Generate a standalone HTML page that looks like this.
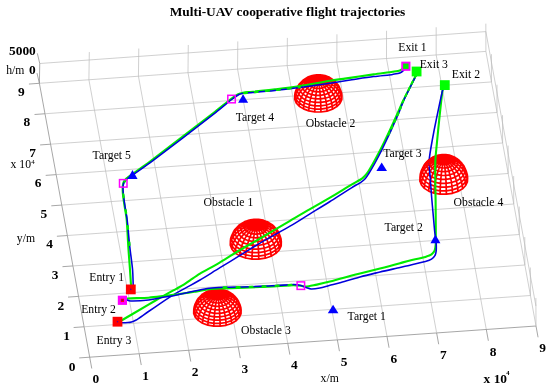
<!DOCTYPE html>
<html><head><meta charset="utf-8"><title>Multi-UAV cooperative flight trajectories</title>
<style>
html,body{margin:0;padding:0;background:#fff;}
svg{display:block}
text{font-family:"Liberation Serif","Times New Roman",serif;fill:#000}
.r{font-size:11.7px}
.b{font-size:13.4px;font-weight:bold}
.sup{font-size:7px}
.bsup{font-size:6.5px;font-weight:bold}
.g{stroke:#bcbcbc;stroke-width:0.7;fill:none}
.ax{stroke:#8a8a8a;stroke-width:0.75;fill:none}
.ob{stroke:#ff0000;stroke-width:1.7;fill:#fff;stroke-linejoin:round}
.tg{stroke:#00ec00;stroke-width:2.1;fill:none;stroke-linejoin:round;stroke-linecap:round}
.tb{stroke:#0000dc;stroke-width:1.55;fill:none;stroke-linejoin:round;stroke-linecap:round}
</style></head><body>
<svg width="550" height="390" viewBox="0 0 550 390">
<rect width="550" height="390" fill="#fff"/>
<g><line class="ax" x1="89.70" y1="357.20" x2="39.40" y2="83.30"/><line class="ax" x1="91.78" y1="368.51" x2="89.70" y2="357.20"/><line class="ax" x1="89.70" y1="357.20" x2="536.00" y2="326.00"/><line class="ax" x1="79.23" y1="357.93" x2="89.70" y2="357.20"/><line class="g" x1="139.18" y1="353.74" x2="88.90" y2="79.76"/><line class="ax" x1="141.26" y1="365.05" x2="139.18" y2="353.74"/><line class="g" x1="84.11" y1="326.79" x2="530.44" y2="295.51"/><line class="ax" x1="73.64" y1="327.52" x2="84.11" y2="326.79"/><line class="g" x1="188.69" y1="350.28" x2="138.43" y2="76.22"/><line class="ax" x1="190.76" y1="361.59" x2="188.69" y2="350.28"/><line class="g" x1="78.53" y1="296.37" x2="524.87" y2="265.01"/><line class="ax" x1="68.05" y1="297.10" x2="78.53" y2="296.37"/><line class="g" x1="238.22" y1="346.82" x2="187.99" y2="72.68"/><line class="ax" x1="240.29" y1="358.13" x2="238.22" y2="346.82"/><line class="g" x1="72.94" y1="265.94" x2="519.31" y2="234.51"/><line class="ax" x1="62.47" y1="266.68" x2="72.94" y2="265.94"/><line class="g" x1="287.78" y1="343.35" x2="237.57" y2="69.14"/><line class="ax" x1="289.85" y1="354.66" x2="287.78" y2="343.35"/><line class="g" x1="67.35" y1="235.52" x2="513.74" y2="204.00"/><line class="ax" x1="56.88" y1="236.26" x2="67.35" y2="235.52"/><line class="g" x1="337.37" y1="339.89" x2="287.18" y2="65.60"/><line class="ax" x1="339.44" y1="351.20" x2="337.37" y2="339.89"/><line class="g" x1="61.76" y1="205.08" x2="508.18" y2="173.49"/><line class="ax" x1="51.29" y1="205.82" x2="61.76" y2="205.08"/><line class="g" x1="386.99" y1="336.42" x2="336.82" y2="62.05"/><line class="ax" x1="389.06" y1="347.73" x2="386.99" y2="336.42"/><line class="g" x1="56.17" y1="174.64" x2="502.61" y2="142.98"/><line class="ax" x1="45.70" y1="175.39" x2="56.17" y2="174.64"/><line class="g" x1="436.63" y1="332.95" x2="386.49" y2="58.50"/><line class="ax" x1="438.70" y1="344.26" x2="436.63" y2="332.95"/><line class="g" x1="50.58" y1="144.20" x2="497.04" y2="112.46"/><line class="ax" x1="40.11" y1="144.95" x2="50.58" y2="144.20"/><line class="g" x1="486.30" y1="329.47" x2="436.18" y2="54.95"/><line class="ax" x1="488.37" y1="340.79" x2="486.30" y2="329.47"/><line class="g" x1="44.99" y1="113.75" x2="491.47" y2="81.93"/><line class="ax" x1="34.52" y1="114.50" x2="44.99" y2="113.75"/><line class="g" x1="536.00" y1="326.00" x2="485.90" y2="51.40"/><line class="ax" x1="538.06" y1="337.31" x2="536.00" y2="326.00"/><line class="g" x1="39.40" y1="83.30" x2="485.90" y2="51.40"/><line class="ax" x1="28.93" y1="84.05" x2="39.40" y2="83.30"/><line class="g" x1="88.90" y1="79.76" x2="89.32" y2="52.06"/><line class="g" x1="138.43" y1="76.22" x2="138.79" y2="48.52"/><line class="g" x1="187.99" y1="72.68" x2="188.29" y2="44.98"/><line class="g" x1="237.57" y1="69.14" x2="237.81" y2="41.43"/><line class="g" x1="287.18" y1="65.60" x2="287.36" y2="37.88"/><line class="g" x1="336.82" y1="62.05" x2="336.94" y2="34.33"/><line class="g" x1="386.49" y1="58.50" x2="386.55" y2="30.78"/><line class="g" x1="436.18" y1="54.95" x2="436.18" y2="27.23"/><line class="g" x1="485.90" y1="51.40" x2="485.84" y2="23.67"/><line class="ax" x1="39.40" y1="83.30" x2="39.74" y2="63.51"/><line class="g" x1="39.74" y1="63.51" x2="485.86" y2="31.59"/><line class="g" x1="536.00" y1="326.00" x2="535.88" y2="297.96"/><line class="g" x1="530.44" y1="295.51" x2="530.32" y2="267.51"/><line class="g" x1="524.87" y1="265.01" x2="524.77" y2="237.04"/><line class="g" x1="519.31" y1="234.51" x2="519.21" y2="206.58"/><line class="g" x1="513.74" y1="204.00" x2="513.65" y2="176.11"/><line class="g" x1="508.18" y1="173.49" x2="508.09" y2="145.63"/><line class="g" x1="502.61" y1="142.98" x2="502.53" y2="115.15"/><line class="g" x1="497.04" y1="112.46" x2="496.97" y2="84.66"/><line class="g" x1="491.47" y1="81.93" x2="491.40" y2="54.17"/><line class="g" x1="485.86" y1="31.59" x2="535.91" y2="305.97"/><line class="ax" x1="39.40" y1="83.30" x2="37.00" y2="73.10"/><line class="ax" x1="39.74" y1="63.51" x2="37.34" y2="53.31"/></g>
<path class="ob" d="M230.4,241.2 230.3,245.3 230.6,242.4 230.7,238.3ZM230.3,245.3 231.9,249.3 232.2,246.3 230.6,242.4ZM231.9,249.3 235.1,252.9 235.4,249.9 232.2,246.3ZM235.1,252.9 239.8,255.9 240.0,252.8 235.4,249.9ZM239.8,255.9 245.5,258.0 245.7,254.9 240.0,252.8ZM245.5,258.0 252.0,259.1 252.0,256.0 245.7,254.9ZM252.0,259.1 258.7,259.2 258.7,256.1 252.0,256.0ZM258.7,259.2 265.2,258.2 265.1,255.1 258.7,256.1ZM265.2,258.2 271.1,256.2 270.9,253.1 265.1,255.1ZM271.1,256.2 275.9,253.3 275.7,250.3 270.9,253.1ZM275.9,253.3 279.3,249.8 279.1,246.8 275.7,250.3ZM279.3,249.8 281.2,245.8 280.9,242.9 279.1,246.8ZM281.2,245.8 281.3,241.7 281.0,238.8 280.9,242.9ZM230.7,238.3 230.6,242.4 231.6,239.5 231.7,235.6ZM230.6,242.4 232.2,246.3 233.1,243.3 231.6,239.5ZM232.2,246.3 235.4,249.9 236.2,246.7 233.1,243.3ZM235.4,249.9 240.0,252.8 240.6,249.5 236.2,246.7ZM240.0,252.8 245.7,254.9 246.1,251.6 240.6,249.5ZM245.7,254.9 252.0,256.0 252.2,252.6 246.1,251.6ZM252.0,256.0 258.7,256.1 258.6,252.7 252.2,252.6ZM258.7,256.1 265.1,255.1 264.8,251.7 258.6,252.7ZM265.1,255.1 270.9,253.1 270.3,249.8 264.8,251.7ZM270.9,253.1 275.7,250.3 274.9,247.1 270.3,249.8ZM275.7,250.3 279.1,246.8 278.2,243.8 274.9,247.1ZM279.1,246.8 280.9,242.9 280.0,240.0 278.2,243.8ZM280.9,242.9 281.0,238.8 280.1,236.1 280.0,240.0ZM280.1,236.1 278.6,232.3 277.2,229.9 278.6,233.5ZM233.5,231.8 231.7,235.6 233.2,233.0 234.9,229.5ZM231.7,235.6 231.6,239.5 233.1,236.7 233.2,233.0ZM231.6,239.5 233.1,243.3 234.6,240.3 233.1,236.7ZM233.1,243.3 236.2,246.7 237.5,243.5 234.6,240.3ZM236.2,246.7 240.6,249.5 241.6,246.1 237.5,243.5ZM240.6,249.5 246.1,251.6 246.7,248.0 241.6,246.1ZM246.1,251.6 252.2,252.6 252.5,249.0 246.7,248.0ZM252.2,252.6 258.6,252.7 258.4,249.1 252.5,249.0ZM258.6,252.7 264.8,251.7 264.2,248.2 258.4,249.1ZM264.8,251.7 270.3,249.8 269.5,246.4 264.2,248.2ZM270.3,249.8 274.9,247.1 273.8,243.9 269.5,246.4ZM274.9,247.1 278.2,243.8 276.8,240.7 273.8,243.9ZM278.2,243.8 280.0,240.0 278.5,237.2 276.8,240.7ZM280.0,240.0 280.1,236.1 278.6,233.5 278.5,237.2ZM278.6,233.5 277.2,229.9 275.2,227.9 276.5,231.2ZM277.2,229.9 274.3,226.7 272.6,225.0 275.2,227.9ZM238.0,226.4 234.9,229.5 236.8,227.6 239.6,224.7ZM234.9,229.5 233.2,233.0 235.3,230.8 236.8,227.6ZM233.2,233.0 233.1,236.7 235.2,234.1 235.3,230.8ZM233.1,236.7 234.6,240.3 236.5,237.3 235.2,234.1ZM234.6,240.3 237.5,243.5 239.2,240.2 236.5,237.3ZM237.5,243.5 241.6,246.1 242.9,242.6 239.2,240.2ZM241.6,246.1 246.7,248.0 247.6,244.3 242.9,242.6ZM246.7,248.0 252.5,249.0 252.8,245.3 247.6,244.3ZM252.5,249.0 258.4,249.1 258.2,245.3 252.8,245.3ZM258.4,249.1 264.2,248.2 263.5,244.5 258.2,245.3ZM264.2,248.2 269.5,246.4 268.2,242.9 263.5,244.5ZM269.5,246.4 273.8,243.9 272.1,240.6 268.2,242.9ZM273.8,243.9 276.8,240.7 274.9,237.7 272.1,240.6ZM276.8,240.7 278.5,237.2 276.4,234.5 274.9,237.7ZM278.5,237.2 278.6,233.5 276.5,231.2 276.4,234.5ZM276.5,231.2 275.2,227.9 272.8,226.3 273.9,229.2ZM275.2,227.9 272.6,225.0 270.5,223.8 272.8,226.3ZM272.6,225.0 268.8,222.6 267.2,221.7 270.5,223.8ZM243.6,222.4 239.6,224.7 241.7,223.5 245.1,221.5ZM239.6,224.7 236.8,227.6 239.3,226.0 241.7,223.5ZM236.8,227.6 235.3,230.8 237.9,228.8 239.3,226.0ZM235.3,230.8 235.2,234.1 237.9,231.7 237.9,228.8ZM235.2,234.1 236.5,237.3 239.0,234.5 237.9,231.7ZM236.5,237.3 239.2,240.2 241.3,237.1 239.0,234.5ZM239.2,240.2 242.9,242.6 244.6,239.2 241.3,237.1ZM242.9,242.6 247.6,244.3 248.6,240.7 244.6,239.2ZM247.6,244.3 252.8,245.3 253.2,241.5 248.6,240.7ZM252.8,245.3 258.2,245.3 257.9,241.5 253.2,241.5ZM258.2,245.3 263.5,244.5 262.5,240.8 257.9,241.5ZM263.5,244.5 268.2,242.9 266.7,239.4 262.5,240.8ZM268.2,242.9 272.1,240.6 270.1,237.4 266.7,239.4ZM272.1,240.6 274.9,237.7 272.5,234.9 270.1,237.4ZM274.9,237.7 276.4,234.5 273.9,232.1 272.5,234.9ZM276.4,234.5 276.5,231.2 273.9,229.2 273.9,232.1ZM273.9,229.2 272.8,226.3 270.0,225.1 270.9,227.5ZM272.8,226.3 270.5,223.8 268.1,223.0 270.0,225.1ZM270.5,223.8 267.2,221.7 265.3,221.3 268.1,223.0ZM267.2,221.7 263.2,220.2 262.0,220.0 265.3,221.3ZM263.2,220.2 258.6,219.4 258.2,219.4 262.0,220.0ZM253.9,219.3 249.3,220.0 250.4,219.9 254.2,219.3ZM249.3,220.0 245.1,221.5 247.0,221.1 250.4,219.9ZM245.1,221.5 241.7,223.5 244.1,222.8 247.0,221.1ZM241.7,223.5 239.3,226.0 242.1,224.9 244.1,222.8ZM239.3,226.0 237.9,228.8 241.0,227.2 242.1,224.9ZM237.9,228.8 237.9,231.7 240.9,229.6 241.0,227.2ZM237.9,231.7 239.0,234.5 241.9,232.0 240.9,229.6ZM239.0,234.5 241.3,237.1 243.8,234.1 241.9,232.0ZM241.3,237.1 244.6,239.2 246.5,235.8 243.8,234.1ZM244.6,239.2 248.6,240.7 249.9,237.1 246.5,235.8ZM248.6,240.7 253.2,241.5 253.7,237.7 249.9,237.1ZM253.2,241.5 257.9,241.5 257.6,237.8 253.7,237.7ZM257.9,241.5 262.5,240.8 261.4,237.2 257.6,237.8ZM262.5,240.8 266.7,239.4 264.9,236.0 261.4,237.2ZM266.7,239.4 270.1,237.4 267.7,234.3 264.9,236.0ZM270.1,237.4 272.5,234.9 269.7,232.2 267.7,234.3ZM272.5,234.9 273.9,232.1 270.8,229.9 269.7,232.2ZM273.9,232.1 273.9,229.2 270.9,227.5 270.8,229.9ZM270.9,227.5 270.0,225.1 266.8,224.4 267.5,226.2ZM270.0,225.1 268.1,223.0 265.3,222.8 266.8,224.4ZM268.1,223.0 265.3,221.3 263.2,221.4 265.3,222.8ZM265.3,221.3 262.0,220.0 260.6,220.5 263.2,221.4ZM262.0,220.0 258.2,219.4 257.7,219.9 260.6,220.5ZM258.2,219.4 254.2,219.3 254.6,219.9 257.7,219.9ZM254.2,219.3 250.4,219.9 251.7,220.4 254.6,219.9ZM250.4,219.9 247.0,221.1 249.0,221.3 251.7,220.4ZM247.0,221.1 244.1,222.8 246.8,222.6 249.0,221.3ZM244.1,222.8 242.1,224.9 245.2,224.2 246.8,222.6ZM242.1,224.9 241.0,227.2 244.4,226.0 245.2,224.2ZM241.0,227.2 240.9,229.6 244.3,227.8 244.4,226.0ZM240.9,229.6 241.9,232.0 245.1,229.7 244.3,227.8ZM241.9,232.0 243.8,234.1 246.6,231.3 245.1,229.7ZM243.8,234.1 246.5,235.8 248.7,232.6 246.6,231.3ZM246.5,235.8 249.9,237.1 251.3,233.6 248.7,232.6ZM249.9,237.1 253.7,237.7 254.2,234.1 251.3,233.6ZM253.7,237.7 257.6,237.8 257.2,234.1 254.2,234.1ZM257.6,237.8 261.4,237.2 260.2,233.7 257.2,234.1ZM261.4,237.2 264.9,236.0 262.8,232.8 260.2,233.7ZM264.9,236.0 267.7,234.3 265.0,231.5 262.8,232.8ZM267.7,234.3 269.7,232.2 266.6,229.9 265.0,231.5ZM269.7,232.2 270.8,229.9 267.5,228.1 266.6,229.9ZM270.8,229.9 270.9,227.5 267.5,226.2 267.5,228.1ZM267.5,226.2 266.8,224.4 263.3,224.1 263.8,225.4ZM266.8,224.4 265.3,222.8 262.3,223.0 263.3,224.1ZM265.3,222.8 263.2,221.4 260.9,222.1 262.3,223.0ZM263.2,221.4 260.6,220.5 259.1,221.4 260.9,222.1ZM260.6,220.5 257.7,219.9 257.1,221.1 259.1,221.4ZM257.7,219.9 254.6,219.9 255.1,221.1 257.1,221.1ZM254.6,219.9 251.7,220.4 253.0,221.4 255.1,221.1ZM251.7,220.4 249.0,221.3 251.2,222.0 253.0,221.4ZM249.0,221.3 246.8,222.6 249.7,222.9 251.2,222.0ZM246.8,222.6 245.2,224.2 248.7,224.0 249.7,222.9ZM245.2,224.2 244.4,226.0 248.1,225.2 248.7,224.0ZM244.4,226.0 244.3,227.8 248.1,226.5 248.1,225.2ZM244.3,227.8 245.1,229.7 248.6,227.7 248.1,226.5ZM245.1,229.7 246.6,231.3 249.6,228.8 248.6,227.7ZM246.6,231.3 248.7,232.6 251.0,229.7 249.6,228.8ZM248.7,232.6 251.3,233.6 252.8,230.4 251.0,229.7ZM251.3,233.6 254.2,234.1 254.8,230.7 252.8,230.4ZM254.2,234.1 257.2,234.1 256.8,230.8 254.8,230.7ZM257.2,234.1 260.2,233.7 258.8,230.5 256.8,230.8ZM260.2,233.7 262.8,232.8 260.6,229.8 258.8,230.5ZM262.8,232.8 265.0,231.5 262.1,229.0 260.6,229.8ZM265.0,231.5 266.6,229.9 263.2,227.9 262.1,229.0ZM266.6,229.9 267.5,228.1 263.8,226.6 263.2,227.9ZM267.5,228.1 267.5,226.2 263.8,225.4 263.8,226.6ZM263.8,225.4 263.3,224.1 259.7,224.3 259.9,225.0ZM263.3,224.1 262.3,223.0 259.2,223.8 259.7,224.3ZM262.3,223.0 260.9,222.1 258.4,223.3 259.2,223.8ZM260.9,222.1 259.1,221.4 257.5,223.0 258.4,223.3ZM259.1,221.4 257.1,221.1 256.5,222.8 257.5,223.0ZM257.1,221.1 255.1,221.1 255.5,222.8 256.5,222.8ZM255.1,221.1 253.0,221.4 254.5,222.9 255.5,222.8ZM253.0,221.4 251.2,222.0 253.6,223.3 254.5,222.9ZM251.2,222.0 249.7,222.9 252.8,223.7 253.6,223.3ZM249.7,222.9 248.7,224.0 252.3,224.3 252.8,223.7ZM248.7,224.0 248.1,225.2 252.0,224.9 252.3,224.3ZM248.1,225.2 248.1,226.5 252.0,225.5 252.0,224.9ZM248.1,226.5 248.6,227.7 252.2,226.1 252.0,225.5ZM248.6,227.7 249.6,228.8 252.7,226.7 252.2,226.1ZM249.6,228.8 251.0,229.7 253.4,227.2 252.7,226.7ZM251.0,229.7 252.8,230.4 254.3,227.5 253.4,227.2ZM252.8,230.4 254.8,230.7 255.3,227.7 254.3,227.5ZM254.8,230.7 256.8,230.8 256.4,227.7 255.3,227.7ZM256.8,230.8 258.8,230.5 257.4,227.5 256.4,227.7ZM258.8,230.5 260.6,229.8 258.3,227.2 257.4,227.5ZM260.6,229.8 262.1,229.0 259.1,226.8 258.3,227.2ZM262.1,229.0 263.2,227.9 259.6,226.2 259.1,226.8ZM263.2,227.9 263.8,226.6 259.9,225.6 259.6,226.2ZM263.8,226.6 263.8,225.4 259.9,225.0 259.9,225.6ZM259.9,225.0 259.7,224.3 255.9,225.0 255.9,225.0ZM259.7,224.3 259.2,223.8 255.9,225.0 255.9,225.0ZM259.2,223.8 258.4,223.3 255.9,225.0 255.9,225.0ZM258.4,223.3 257.5,223.0 255.9,225.0 255.9,225.0ZM257.5,223.0 256.5,222.8 255.9,225.0 255.9,225.0ZM256.5,222.8 255.5,222.8 255.9,225.0 255.9,225.0ZM255.5,222.8 254.5,222.9 255.9,225.0 255.9,225.0ZM254.5,222.9 253.6,223.3 255.9,225.0 255.9,225.0ZM253.6,223.3 252.8,223.7 255.9,225.0 255.9,225.0ZM252.8,223.7 252.3,224.3 255.9,225.0 255.9,225.0ZM252.3,224.3 252.0,224.9 255.9,225.0 255.9,225.0ZM252.0,224.9 252.0,225.5 255.9,225.0 255.9,225.0ZM252.0,225.5 252.2,226.1 255.9,225.0 255.9,225.0ZM252.2,226.1 252.7,226.7 255.9,225.0 255.9,225.0ZM252.7,226.7 253.4,227.2 255.9,225.0 255.9,225.0ZM253.4,227.2 254.3,227.5 255.9,225.0 255.9,225.0ZM254.3,227.5 255.3,227.7 255.9,225.0 255.9,225.0ZM255.3,227.7 256.4,227.7 255.9,225.0 255.9,225.0ZM256.4,227.7 257.4,227.5 255.9,225.0 255.9,225.0ZM257.4,227.5 258.3,227.2 255.9,225.0 255.9,225.0ZM258.3,227.2 259.1,226.8 255.9,225.0 255.9,225.0ZM259.1,226.8 259.6,226.2 255.9,225.0 255.9,225.0ZM259.6,226.2 259.9,225.6 255.9,225.0 255.9,225.0ZM259.9,225.6 259.9,225.0 255.9,225.0 255.9,225.0Z"/>
<path class="ob" d="M294.8,95.4 294.7,99.2 295.0,96.4 295.1,92.7ZM294.7,99.2 296.2,102.9 296.5,100.1 295.0,96.4ZM296.2,102.9 299.2,106.2 299.5,103.3 296.5,100.1ZM299.2,106.2 303.5,108.9 303.7,106.0 299.5,103.3ZM303.5,108.9 308.8,110.9 308.9,108.0 303.7,106.0ZM308.8,110.9 314.8,111.9 314.8,109.0 308.9,108.0ZM314.8,111.9 320.9,112.0 320.9,109.1 314.8,109.0ZM320.9,112.0 327.0,111.1 326.9,108.1 320.9,109.1ZM327.0,111.1 332.4,109.2 332.2,106.3 326.9,108.1ZM332.4,109.2 336.8,106.6 336.6,103.7 332.2,106.3ZM336.8,106.6 340.0,103.3 339.8,100.5 336.6,103.7ZM340.0,103.3 341.8,99.6 341.5,96.9 339.8,100.5ZM341.8,99.6 341.9,95.8 341.6,93.1 341.5,96.9ZM295.1,92.7 295.0,96.4 295.9,93.7 296.0,90.1ZM295.0,96.4 296.5,100.1 297.3,97.2 295.9,93.7ZM296.5,100.1 299.5,103.3 300.2,100.4 297.3,97.2ZM299.5,103.3 303.7,106.0 304.3,103.0 300.2,100.4ZM303.7,106.0 308.9,108.0 309.3,104.8 304.3,103.0ZM308.9,108.0 314.8,109.0 315.0,105.8 309.3,104.8ZM314.8,109.0 320.9,109.1 320.8,105.9 315.0,105.8ZM320.9,109.1 326.9,108.1 326.6,105.0 320.8,105.9ZM326.9,108.1 332.2,106.3 331.7,103.2 326.6,105.0ZM332.2,106.3 336.6,103.7 336.0,100.7 331.7,103.2ZM336.6,103.7 339.8,100.5 339.0,97.6 336.0,100.7ZM339.8,100.5 341.5,96.9 340.6,94.1 339.0,97.6ZM341.5,96.9 341.6,93.1 340.7,90.5 340.6,94.1ZM340.7,90.5 339.3,87.0 338.0,84.8 339.3,88.0ZM297.7,86.6 296.0,90.1 297.4,87.6 299.0,84.4ZM296.0,90.1 295.9,93.7 297.3,91.0 297.4,87.6ZM295.9,93.7 297.3,97.2 298.7,94.3 297.3,91.0ZM297.3,97.2 300.2,100.4 301.3,97.3 298.7,94.3ZM300.2,100.4 304.3,103.0 305.2,99.7 301.3,97.3ZM304.3,103.0 309.3,104.8 309.9,101.5 305.2,99.7ZM309.3,104.8 315.0,105.8 315.2,102.4 309.9,101.5ZM315.0,105.8 320.8,105.9 320.7,102.4 315.2,102.4ZM320.8,105.9 326.6,105.0 326.1,101.6 320.7,102.4ZM326.6,105.0 331.7,103.2 330.9,100.0 326.1,101.6ZM331.7,103.2 336.0,100.7 334.9,97.6 330.9,100.0ZM336.0,100.7 339.0,97.6 337.7,94.7 334.9,97.6ZM339.0,97.6 340.6,94.1 339.2,91.4 337.7,94.7ZM340.6,94.1 340.7,90.5 339.3,88.0 339.2,91.4ZM339.3,88.0 338.0,84.8 336.2,82.9 337.4,85.8ZM338.0,84.8 335.3,81.8 333.8,80.2 336.2,82.9ZM299.0,84.4 297.4,87.6 299.4,85.5 300.8,82.5ZM297.4,87.6 297.3,91.0 299.3,88.6 299.4,85.5ZM297.3,91.0 298.7,94.3 300.5,91.5 299.3,88.6ZM298.7,94.3 301.3,97.3 302.9,94.2 300.5,91.5ZM301.3,97.3 305.2,99.7 306.4,96.4 302.9,94.2ZM305.2,99.7 309.9,101.5 310.7,98.0 306.4,96.4ZM309.9,101.5 315.2,102.4 315.5,98.9 310.7,98.0ZM315.2,102.4 320.7,102.4 320.5,98.9 315.5,98.9ZM320.7,102.4 326.1,101.6 325.4,98.2 320.5,98.9ZM326.1,101.6 330.9,100.0 329.7,96.7 325.4,98.2ZM330.9,100.0 334.9,97.6 333.4,94.5 329.7,96.7ZM334.9,97.6 337.7,94.7 335.9,91.9 333.4,94.5ZM337.7,94.7 339.2,91.4 337.3,88.9 335.9,91.9ZM339.2,91.4 339.3,88.0 337.4,85.8 337.3,88.9ZM337.4,85.8 336.2,82.9 334.0,81.3 335.0,83.9ZM336.2,82.9 333.8,80.2 331.9,79.0 334.0,81.3ZM333.8,80.2 330.3,78.0 328.8,77.0 331.9,79.0ZM303.4,79.9 300.8,82.5 303.0,81.0 305.3,78.7ZM300.8,82.5 299.4,85.5 301.8,83.6 303.0,81.0ZM299.4,85.5 299.3,88.6 301.7,86.3 301.8,83.6ZM299.3,88.6 300.5,91.5 302.8,88.9 301.7,86.3ZM300.5,91.5 302.9,94.2 304.9,91.3 302.8,88.9ZM302.9,94.2 306.4,96.4 307.9,93.2 304.9,91.3ZM306.4,96.4 310.7,98.0 311.7,94.6 307.9,93.2ZM310.7,98.0 315.5,98.9 315.9,95.3 311.7,94.6ZM315.5,98.9 320.5,98.9 320.2,95.3 315.9,95.3ZM320.5,98.9 325.4,98.2 324.5,94.7 320.2,95.3ZM325.4,98.2 329.7,96.7 328.3,93.4 324.5,94.7ZM329.7,96.7 333.4,94.5 331.5,91.5 328.3,93.4ZM333.4,94.5 335.9,91.9 333.7,89.2 331.5,91.5ZM335.9,91.9 337.3,88.9 334.9,86.6 333.7,89.2ZM337.3,88.9 337.4,85.8 335.0,83.9 334.9,86.6ZM335.0,83.9 334.0,81.3 331.3,80.2 332.2,82.3ZM334.0,81.3 331.9,79.0 329.6,78.2 331.3,80.2ZM331.9,79.0 328.8,77.0 327.1,76.6 329.6,78.2ZM328.8,77.0 325.1,75.6 324.0,75.5 327.1,76.6ZM325.1,75.6 320.9,74.9 320.5,74.8 324.0,75.5ZM312.2,75.5 308.4,76.8 310.1,76.4 313.3,75.4ZM308.4,76.8 305.3,78.7 307.5,78.0 310.1,76.4ZM305.3,78.7 303.0,81.0 305.6,79.9 307.5,78.0ZM303.0,81.0 301.8,83.6 304.6,82.1 305.6,79.9ZM301.8,83.6 301.7,86.3 304.5,84.3 304.6,82.1ZM301.7,86.3 302.8,88.9 305.4,86.5 304.5,84.3ZM302.8,88.9 304.9,91.3 307.2,88.4 305.4,86.5ZM304.9,91.3 307.9,93.2 309.7,90.0 307.2,88.4ZM307.9,93.2 311.7,94.6 312.8,91.2 309.7,90.0ZM311.7,94.6 315.9,95.3 316.3,91.8 312.8,91.2ZM315.9,95.3 320.2,95.3 319.9,91.8 316.3,91.8ZM320.2,95.3 324.5,94.7 323.5,91.3 319.9,91.8ZM324.5,94.7 328.3,93.4 326.6,90.2 323.5,91.3ZM328.3,93.4 331.5,91.5 329.3,88.6 326.6,90.2ZM331.5,91.5 333.7,89.2 331.1,86.7 329.3,88.6ZM333.7,89.2 334.9,86.6 332.2,84.6 331.1,86.7ZM334.9,86.6 335.0,83.9 332.2,82.3 332.2,84.6ZM332.2,82.3 331.3,80.2 328.4,79.4 329.1,81.1ZM331.3,80.2 329.6,78.2 327.0,77.9 328.4,79.4ZM329.6,78.2 327.1,76.6 325.1,76.7 327.0,77.9ZM327.1,76.6 324.0,75.5 322.7,75.8 325.1,76.7ZM324.0,75.5 320.5,74.8 320.0,75.3 322.7,75.8ZM320.5,74.8 316.8,74.8 317.2,75.3 320.0,75.3ZM316.8,74.8 313.3,75.4 314.5,75.7 317.2,75.3ZM313.3,75.4 310.1,76.4 312.0,76.6 314.5,75.7ZM310.1,76.4 307.5,78.0 310.0,77.8 312.0,76.6ZM307.5,78.0 305.6,79.9 308.5,79.3 310.0,77.8ZM305.6,79.9 304.6,82.1 307.7,80.9 308.5,79.3ZM304.6,82.1 304.5,84.3 307.7,82.6 307.7,80.9ZM304.5,84.3 305.4,86.5 308.4,84.3 307.7,82.6ZM305.4,86.5 307.2,88.4 309.7,85.8 308.4,84.3ZM307.2,88.4 309.7,90.0 311.7,87.1 309.7,85.8ZM309.7,90.0 312.8,91.2 314.1,88.0 311.7,87.1ZM312.8,91.2 316.3,91.8 316.8,88.4 314.1,88.0ZM316.3,91.8 319.9,91.8 319.6,88.5 316.8,88.4ZM319.9,91.8 323.5,91.3 322.3,88.0 319.6,88.5ZM323.5,91.3 326.6,90.2 324.8,87.2 322.3,88.0ZM326.6,90.2 329.3,88.6 326.8,86.0 324.8,87.2ZM329.3,88.6 331.1,86.7 328.2,84.5 326.8,86.0ZM331.1,86.7 332.2,84.6 329.0,82.9 328.2,84.5ZM332.2,84.6 332.2,82.3 329.1,81.1 329.0,82.9ZM329.1,81.1 328.4,79.4 325.2,79.2 325.7,80.3ZM328.4,79.4 327.0,77.9 324.3,78.1 325.2,79.2ZM327.0,77.9 325.1,76.7 323.0,77.3 324.3,78.1ZM325.1,76.7 322.7,75.8 321.3,76.7 323.0,77.3ZM322.7,75.8 320.0,75.3 319.5,76.4 321.3,76.7ZM320.0,75.3 317.2,75.3 317.6,76.4 319.5,76.4ZM317.2,75.3 314.5,75.7 315.7,76.6 317.6,76.4ZM314.5,75.7 312.0,76.6 314.0,77.2 315.7,76.6ZM312.0,76.6 310.0,77.8 312.7,78.0 314.0,77.2ZM310.0,77.8 308.5,79.3 311.7,79.0 312.7,78.0ZM308.5,79.3 307.7,80.9 311.1,80.2 311.7,79.0ZM307.7,80.9 307.7,82.6 311.1,81.4 311.1,80.2ZM307.7,82.6 308.4,84.3 311.6,82.5 311.1,81.4ZM308.4,84.3 309.7,85.8 312.5,83.5 311.6,82.5ZM309.7,85.8 311.7,87.1 313.8,84.4 312.5,83.5ZM311.7,87.1 314.1,88.0 315.5,85.0 313.8,84.4ZM314.1,88.0 316.8,88.4 317.3,85.3 315.5,85.0ZM316.8,88.4 319.6,88.5 319.2,85.3 317.3,85.3ZM319.6,88.5 322.3,88.0 321.1,85.0 319.2,85.3ZM322.3,88.0 324.8,87.2 322.7,84.4 321.1,85.0ZM324.8,87.2 326.8,86.0 324.1,83.6 322.7,84.4ZM326.8,86.0 328.2,84.5 325.1,82.6 324.1,83.6ZM328.2,84.5 329.0,82.9 325.6,81.5 325.1,82.6ZM329.0,82.9 329.1,81.1 325.7,80.3 325.6,81.5ZM325.7,80.3 325.2,79.2 321.8,79.4 322.1,79.9ZM325.2,79.2 324.3,78.1 321.4,78.8 321.8,79.4ZM324.3,78.1 323.0,77.3 320.7,78.4 321.4,78.8ZM323.0,77.3 321.3,76.7 319.9,78.1 320.7,78.4ZM321.3,76.7 319.5,76.4 318.9,77.9 319.9,78.1ZM319.5,76.4 317.6,76.4 318.0,77.9 318.9,77.9ZM317.6,76.4 315.7,76.6 317.0,78.1 318.0,77.9ZM315.7,76.6 314.0,77.2 316.2,78.4 317.0,78.1ZM314.0,77.2 312.7,78.0 315.5,78.8 316.2,78.4ZM312.7,78.0 311.7,79.0 315.0,79.3 315.5,78.8ZM311.7,79.0 311.1,80.2 314.7,79.9 315.0,79.3ZM311.1,80.2 311.1,81.4 314.7,80.5 314.7,79.9ZM311.1,81.4 311.6,82.5 314.9,81.0 314.7,80.5ZM311.6,82.5 312.5,83.5 315.4,81.6 314.9,81.0ZM312.5,83.5 313.8,84.4 316.1,82.0 315.4,81.6ZM313.8,84.4 315.5,85.0 316.9,82.3 316.1,82.0ZM315.5,85.0 317.3,85.3 317.8,82.4 316.9,82.3ZM317.3,85.3 319.2,85.3 318.8,82.5 317.8,82.4ZM319.2,85.3 321.1,85.0 319.7,82.3 318.8,82.5ZM321.1,85.0 322.7,84.4 320.6,82.0 319.7,82.3ZM322.7,84.4 324.1,83.6 321.3,81.6 320.6,82.0ZM324.1,83.6 325.1,82.6 321.8,81.1 321.3,81.6ZM325.1,82.6 325.6,81.5 322.1,80.5 321.8,81.1ZM325.6,81.5 325.7,80.3 322.1,79.9 322.1,80.5ZM322.1,79.9 321.8,79.4 318.4,80.0 318.4,80.0ZM321.8,79.4 321.4,78.8 318.4,80.0 318.4,80.0ZM321.4,78.8 320.7,78.4 318.4,80.0 318.4,80.0ZM320.7,78.4 319.9,78.1 318.4,80.0 318.4,80.0ZM319.9,78.1 318.9,77.9 318.4,80.0 318.4,80.0ZM318.9,77.9 318.0,77.9 318.4,80.0 318.4,80.0ZM318.0,77.9 317.0,78.1 318.4,80.0 318.4,80.0ZM317.0,78.1 316.2,78.4 318.4,80.0 318.4,80.0ZM316.2,78.4 315.5,78.8 318.4,80.0 318.4,80.0ZM315.5,78.8 315.0,79.3 318.4,80.0 318.4,80.0ZM315.0,79.3 314.7,79.9 318.4,80.0 318.4,80.0ZM314.7,79.9 314.7,80.5 318.4,80.0 318.4,80.0ZM314.7,80.5 314.9,81.0 318.4,80.0 318.4,80.0ZM314.9,81.0 315.4,81.6 318.4,80.0 318.4,80.0ZM315.4,81.6 316.1,82.0 318.4,80.0 318.4,80.0ZM316.1,82.0 316.9,82.3 318.4,80.0 318.4,80.0ZM316.9,82.3 317.8,82.4 318.4,80.0 318.4,80.0ZM317.8,82.4 318.8,82.5 318.4,80.0 318.4,80.0ZM318.8,82.5 319.7,82.3 318.4,80.0 318.4,80.0ZM319.7,82.3 320.6,82.0 318.4,80.0 318.4,80.0ZM320.6,82.0 321.3,81.6 318.4,80.0 318.4,80.0ZM321.3,81.6 321.8,81.1 318.4,80.0 318.4,80.0ZM321.8,81.1 322.1,80.5 318.4,80.0 318.4,80.0ZM322.1,80.5 322.1,79.9 318.4,80.0 318.4,80.0Z"/>
<path class="ob" d="M193.8,309.5 193.7,313.4 194.0,310.6 194.2,306.9ZM193.7,313.4 195.2,317.1 195.5,314.3 194.0,310.6ZM195.2,317.1 198.2,320.4 198.5,317.6 195.5,314.3ZM198.2,320.4 202.5,323.2 202.8,320.3 198.5,317.6ZM202.5,323.2 207.9,325.1 208.0,322.3 202.8,320.3ZM207.9,325.1 213.8,326.2 213.9,323.3 208.0,322.3ZM213.8,326.2 220.1,326.2 220.1,323.4 213.9,323.3ZM220.1,326.2 226.1,325.3 226.0,322.5 220.1,323.4ZM226.1,325.3 231.6,323.5 231.4,320.6 226.0,322.5ZM231.6,323.5 236.0,320.8 235.8,318.0 231.4,320.6ZM236.0,320.8 239.2,317.5 239.0,314.8 235.8,318.0ZM239.2,317.5 241.0,313.9 240.7,311.1 239.0,314.8ZM241.0,313.9 241.1,310.0 240.8,307.4 240.7,311.1ZM194.2,306.9 194.0,310.6 194.9,308.0 195.0,304.3ZM194.0,310.6 195.5,314.3 196.4,311.5 194.9,308.0ZM195.5,314.3 198.5,317.6 199.2,314.7 196.4,311.5ZM198.5,317.6 202.8,320.3 203.3,317.3 199.2,314.7ZM202.8,320.3 208.0,322.3 208.4,319.2 203.3,317.3ZM208.0,322.3 213.9,323.3 214.1,320.2 208.4,319.2ZM213.9,323.3 220.1,323.4 220.0,320.2 214.1,320.2ZM220.1,323.4 226.0,322.5 225.7,319.3 220.0,320.2ZM226.0,322.5 231.4,320.6 230.9,317.6 225.7,319.3ZM231.4,320.6 235.8,318.0 235.2,315.0 230.9,317.6ZM235.8,318.0 239.0,314.8 238.2,311.9 235.2,315.0ZM239.0,314.8 240.7,311.1 239.9,308.4 238.2,311.9ZM240.7,311.1 240.8,307.4 240.0,304.8 239.9,308.4ZM240.0,304.8 238.5,301.3 237.2,299.1 238.6,302.4ZM196.7,300.8 195.0,304.3 196.5,302.0 198.0,298.7ZM195.0,304.3 194.9,308.0 196.4,305.4 196.5,302.0ZM194.9,308.0 196.4,311.5 197.7,308.7 196.4,305.4ZM196.4,311.5 199.2,314.7 200.4,311.6 197.7,308.7ZM199.2,314.7 203.3,317.3 204.2,314.1 200.4,311.6ZM203.3,317.3 208.4,319.2 209.0,315.9 204.2,314.1ZM208.4,319.2 214.1,320.2 214.3,316.8 209.0,315.9ZM214.1,320.2 220.0,320.2 219.8,316.8 214.3,316.8ZM220.0,320.2 225.7,319.3 225.2,316.0 219.8,316.8ZM225.7,319.3 230.9,317.6 230.1,314.4 225.2,316.0ZM230.9,317.6 235.2,315.0 234.1,312.0 230.1,314.4ZM235.2,315.0 238.2,311.9 236.9,309.1 234.1,312.0ZM238.2,311.9 239.9,308.4 238.5,305.8 236.9,309.1ZM239.9,308.4 240.0,304.8 238.6,302.4 238.5,305.8ZM238.6,302.4 237.2,299.1 235.4,297.2 236.6,300.2ZM237.2,299.1 234.6,296.1 233.0,294.5 235.4,297.2ZM200.9,295.8 198.0,298.7 199.8,296.9 202.4,294.2ZM198.0,298.7 196.5,302.0 198.4,299.8 199.8,296.9ZM196.5,302.0 196.4,305.4 198.3,302.9 198.4,299.8ZM196.4,305.4 197.7,308.7 199.6,305.9 198.3,302.9ZM197.7,308.7 200.4,311.6 202.0,308.6 199.6,305.9ZM200.4,311.6 204.2,314.1 205.5,310.9 202.0,308.6ZM204.2,314.1 209.0,315.9 209.8,312.4 205.5,310.9ZM209.0,315.9 214.3,316.8 214.6,313.3 209.8,312.4ZM214.3,316.8 219.8,316.8 219.7,313.4 214.6,313.3ZM219.8,316.8 225.2,316.0 224.5,312.6 219.7,313.4ZM225.2,316.0 230.1,314.4 228.9,311.1 224.5,312.6ZM230.1,314.4 234.1,312.0 232.6,309.0 228.9,311.1ZM234.1,312.0 236.9,309.1 235.2,306.3 232.6,309.0ZM236.9,309.1 238.5,305.8 236.6,303.3 235.2,306.3ZM238.5,305.8 238.6,302.4 236.6,300.2 236.6,303.3ZM236.6,300.2 235.4,297.2 233.2,295.7 234.3,298.4ZM235.4,297.2 233.0,294.5 231.1,293.4 233.2,295.7ZM233.0,294.5 229.5,292.3 228.0,291.4 231.1,293.4ZM206.1,292.1 202.4,294.2 204.3,293.1 207.5,291.2ZM202.4,294.2 199.8,296.9 202.1,295.4 204.3,293.1ZM199.8,296.9 198.4,299.8 200.9,298.0 202.1,295.4ZM198.4,299.8 198.3,302.9 200.8,300.7 200.9,298.0ZM198.3,302.9 199.6,305.9 201.8,303.3 200.8,300.7ZM199.6,305.9 202.0,308.6 204.0,305.7 201.8,303.3ZM202.0,308.6 205.5,310.9 207.0,307.6 204.0,305.7ZM205.5,310.9 209.8,312.4 210.8,309.0 207.0,307.6ZM209.8,312.4 214.6,313.3 215.0,309.8 210.8,309.0ZM214.6,313.3 219.7,313.4 219.4,309.8 215.0,309.8ZM219.7,313.4 224.5,312.6 223.7,309.2 219.4,309.8ZM224.5,312.6 228.9,311.1 227.5,307.9 223.7,309.2ZM228.9,311.1 232.6,309.0 230.7,306.0 227.5,307.9ZM232.6,309.0 235.2,306.3 233.0,303.7 230.7,306.0ZM235.2,306.3 236.6,303.3 234.2,301.1 233.0,303.7ZM236.6,303.3 236.6,300.2 234.3,298.4 234.2,301.1ZM234.3,298.4 233.2,295.7 230.6,294.6 231.4,296.8ZM233.2,295.7 231.1,293.4 228.8,292.7 230.6,294.6ZM231.1,293.4 228.0,291.4 226.3,291.0 228.8,292.7ZM228.0,291.4 224.3,290.0 223.1,289.9 226.3,291.0ZM224.3,290.0 220.0,289.3 219.6,289.3 223.1,289.9ZM215.6,289.3 211.4,289.9 212.4,289.8 216.0,289.2ZM211.4,289.9 207.5,291.2 209.2,290.9 212.4,289.8ZM207.5,291.2 204.3,293.1 206.6,292.4 209.2,290.9ZM204.3,293.1 202.1,295.4 204.7,294.4 206.6,292.4ZM202.1,295.4 200.9,298.0 203.7,296.5 204.7,294.4ZM200.9,298.0 200.8,300.7 203.6,298.8 203.7,296.5ZM200.8,300.7 201.8,303.3 204.5,300.9 203.6,298.8ZM201.8,303.3 204.0,305.7 206.3,302.9 204.5,300.9ZM204.0,305.7 207.0,307.6 208.8,304.5 206.3,302.9ZM207.0,307.6 210.8,309.0 211.9,305.7 208.8,304.5ZM210.8,309.0 215.0,309.8 215.4,306.3 211.9,305.7ZM215.0,309.8 219.4,309.8 219.1,306.3 215.4,306.3ZM219.4,309.8 223.7,309.2 222.6,305.8 219.1,306.3ZM223.7,309.2 227.5,307.9 225.8,304.7 222.6,305.8ZM227.5,307.9 230.7,306.0 228.5,303.1 225.8,304.7ZM230.7,306.0 233.0,303.7 230.4,301.2 228.5,303.1ZM233.0,303.7 234.2,301.1 231.4,299.1 230.4,301.2ZM234.2,301.1 234.3,298.4 231.4,296.8 231.4,299.1ZM231.4,296.8 230.6,294.6 227.6,293.9 228.3,295.6ZM230.6,294.6 228.8,292.7 226.2,292.4 227.6,293.9ZM228.8,292.7 226.3,291.0 224.3,291.2 226.2,292.4ZM226.3,291.0 223.1,289.9 221.9,290.3 224.3,291.2ZM223.1,289.9 219.6,289.3 219.2,289.8 221.9,290.3ZM219.6,289.3 216.0,289.2 216.3,289.8 219.2,289.8ZM216.0,289.2 212.4,289.8 213.6,290.2 216.3,289.8ZM212.4,289.8 209.2,290.9 211.1,291.0 213.6,290.2ZM209.2,290.9 206.6,292.4 209.1,292.2 211.1,291.0ZM206.6,292.4 204.7,294.4 207.6,293.7 209.1,292.2ZM204.7,294.4 203.7,296.5 206.9,295.4 207.6,293.7ZM203.7,296.5 203.6,298.8 206.8,297.1 206.9,295.4ZM203.6,298.8 204.5,300.9 207.5,298.8 206.8,297.1ZM204.5,300.9 206.3,302.9 208.8,300.3 207.5,298.8ZM206.3,302.9 208.8,304.5 210.8,301.6 208.8,300.3ZM208.8,304.5 211.9,305.7 213.2,302.5 210.8,301.6ZM211.9,305.7 215.4,306.3 215.9,302.9 213.2,302.5ZM215.4,306.3 219.1,306.3 218.8,303.0 215.9,302.9ZM219.1,306.3 222.6,305.8 221.5,302.6 218.8,303.0ZM222.6,305.8 225.8,304.7 224.0,301.7 221.5,302.6ZM225.8,304.7 228.5,303.1 226.0,300.5 224.0,301.7ZM228.5,303.1 230.4,301.2 227.5,299.0 226.0,300.5ZM230.4,301.2 231.4,299.1 228.2,297.4 227.5,299.0ZM231.4,299.1 231.4,296.8 228.3,295.6 228.2,297.4ZM228.3,295.6 227.6,293.9 224.4,293.7 224.9,294.8ZM227.6,293.9 226.2,292.4 223.5,292.6 224.4,293.7ZM226.2,292.4 224.3,291.2 222.1,291.8 223.5,292.6ZM224.3,291.2 221.9,290.3 220.5,291.2 222.1,291.8ZM221.9,290.3 219.2,289.8 218.7,290.9 220.5,291.2ZM219.2,289.8 216.3,289.8 216.7,290.8 218.7,290.9ZM216.3,289.8 213.6,290.2 214.9,291.1 216.7,290.8ZM213.6,290.2 211.1,291.0 213.2,291.7 214.9,291.1ZM211.1,291.0 209.1,292.2 211.8,292.5 213.2,291.7ZM209.1,292.2 207.6,293.7 210.8,293.5 211.8,292.5ZM207.6,293.7 206.9,295.4 210.3,294.7 210.8,293.5ZM206.9,295.4 206.8,297.1 210.2,295.9 210.3,294.7ZM206.8,297.1 207.5,298.8 210.7,297.0 210.2,295.9ZM207.5,298.8 208.8,300.3 211.6,298.0 210.7,297.0ZM208.8,300.3 210.8,301.6 213.0,298.9 211.6,298.0ZM210.8,301.6 213.2,302.5 214.6,299.5 213.0,298.9ZM213.2,302.5 215.9,302.9 216.5,299.8 214.6,299.5ZM215.9,302.9 218.8,303.0 218.4,299.8 216.5,299.8ZM218.8,303.0 221.5,302.6 220.2,299.5 218.4,299.8ZM221.5,302.6 224.0,301.7 221.9,299.0 220.2,299.5ZM224.0,301.7 226.0,300.5 223.3,298.2 221.9,299.0ZM226.0,300.5 227.5,299.0 224.3,297.1 223.3,298.2ZM227.5,299.0 228.2,297.4 224.8,296.0 224.3,297.1ZM228.2,297.4 228.3,295.6 224.9,294.8 224.8,296.0ZM224.9,294.8 224.4,293.7 221.0,293.9 221.3,294.5ZM224.4,293.7 223.5,292.6 220.6,293.3 221.0,293.9ZM223.5,292.6 222.1,291.8 219.9,292.9 220.6,293.3ZM222.1,291.8 220.5,291.2 219.1,292.6 219.9,292.9ZM220.5,291.2 218.7,290.9 218.1,292.4 219.1,292.6ZM218.7,290.9 216.7,290.8 217.1,292.4 218.1,292.4ZM216.7,290.8 214.9,291.1 216.2,292.6 217.1,292.4ZM214.9,291.1 213.2,291.7 215.3,292.9 216.2,292.6ZM213.2,291.7 211.8,292.5 214.6,293.3 215.3,292.9ZM211.8,292.5 210.8,293.5 214.1,293.8 214.6,293.3ZM210.8,293.5 210.3,294.7 213.9,294.4 214.1,293.8ZM210.3,294.7 210.2,295.9 213.9,295.0 213.9,294.4ZM210.2,295.9 210.7,297.0 214.1,295.6 213.9,295.0ZM210.7,297.0 211.6,298.0 214.6,296.1 214.1,295.6ZM211.6,298.0 213.0,298.9 215.2,296.5 214.6,296.1ZM213.0,298.9 214.6,299.5 216.1,296.8 215.2,296.5ZM214.6,299.5 216.5,299.8 217.0,297.0 216.1,296.8ZM216.5,299.8 218.4,299.8 218.0,297.0 217.0,297.0ZM218.4,299.8 220.2,299.5 218.9,296.8 218.0,297.0ZM220.2,299.5 221.9,299.0 219.8,296.6 218.9,296.8ZM221.9,299.0 223.3,298.2 220.5,296.1 219.8,296.6ZM223.3,298.2 224.3,297.1 221.0,295.6 220.5,296.1ZM224.3,297.1 224.8,296.0 221.2,295.0 221.0,295.6ZM224.8,296.0 224.9,294.8 221.3,294.5 221.2,295.0ZM221.3,294.5 221.0,293.9 217.6,294.5 217.6,294.5ZM221.0,293.9 220.6,293.3 217.6,294.5 217.6,294.5ZM220.6,293.3 219.9,292.9 217.6,294.5 217.6,294.5ZM219.9,292.9 219.1,292.6 217.6,294.5 217.6,294.5ZM219.1,292.6 218.1,292.4 217.6,294.5 217.6,294.5ZM218.1,292.4 217.1,292.4 217.6,294.5 217.6,294.5ZM217.1,292.4 216.2,292.6 217.6,294.5 217.6,294.5ZM216.2,292.6 215.3,292.9 217.6,294.5 217.6,294.5ZM215.3,292.9 214.6,293.3 217.6,294.5 217.6,294.5ZM214.6,293.3 214.1,293.8 217.6,294.5 217.6,294.5ZM214.1,293.8 213.9,294.4 217.6,294.5 217.6,294.5ZM213.9,294.4 213.9,295.0 217.6,294.5 217.6,294.5ZM213.9,295.0 214.1,295.6 217.6,294.5 217.6,294.5ZM214.1,295.6 214.6,296.1 217.6,294.5 217.6,294.5ZM214.6,296.1 215.2,296.5 217.6,294.5 217.6,294.5ZM215.2,296.5 216.1,296.8 217.6,294.5 217.6,294.5ZM216.1,296.8 217.0,297.0 217.6,294.5 217.6,294.5ZM217.0,297.0 218.0,297.0 217.6,294.5 217.6,294.5ZM218.0,297.0 218.9,296.8 217.6,294.5 217.6,294.5ZM218.9,296.8 219.8,296.6 217.6,294.5 217.6,294.5ZM219.8,296.6 220.5,296.1 217.6,294.5 217.6,294.5ZM220.5,296.1 221.0,295.6 217.6,294.5 217.6,294.5ZM221.0,295.6 221.2,295.0 217.6,294.5 217.6,294.5ZM221.2,295.0 221.3,294.5 217.6,294.5 217.6,294.5Z"/>
<path class="ob" d="M420.0,177.4 419.9,181.3 420.1,178.1 420.3,174.3ZM419.9,181.3 421.4,185.0 421.6,181.8 420.1,178.1ZM421.4,185.0 424.4,188.4 424.6,185.1 421.6,181.8ZM424.4,188.4 428.7,191.1 428.9,187.8 424.6,185.1ZM428.7,191.1 434.1,193.1 434.2,189.8 428.9,187.8ZM434.1,193.1 440.1,194.2 440.2,190.8 434.2,189.8ZM440.1,194.2 446.4,194.2 446.3,190.9 440.2,190.8ZM446.4,194.2 452.5,193.3 452.3,189.9 446.3,190.9ZM452.5,193.3 457.9,191.4 457.8,188.1 452.3,189.9ZM457.9,191.4 462.5,188.8 462.2,185.4 457.8,188.1ZM462.5,188.8 465.7,185.5 465.4,182.2 462.2,185.4ZM465.7,185.5 467.4,181.8 467.1,178.5 465.4,182.2ZM467.4,181.8 467.6,177.9 467.3,174.7 467.1,178.5ZM420.3,174.3 420.1,178.1 421.0,174.9 421.1,171.2ZM420.1,178.1 421.6,181.8 422.5,178.4 421.0,174.9ZM421.6,181.8 424.6,185.1 425.3,181.6 422.5,178.4ZM424.6,185.1 428.9,187.8 429.5,184.3 425.3,181.6ZM428.9,187.8 434.2,189.8 434.6,186.1 429.5,184.3ZM434.2,189.8 440.2,190.8 440.3,187.1 434.6,186.1ZM440.2,190.8 446.3,190.9 446.2,187.2 440.3,187.1ZM446.3,190.9 452.3,189.9 452.0,186.3 446.2,187.2ZM452.3,189.9 457.8,188.1 457.2,184.5 452.0,186.3ZM457.8,188.1 462.2,185.4 461.5,182.0 457.2,184.5ZM462.2,185.4 465.4,182.2 464.6,178.8 461.5,182.0ZM465.4,182.2 467.1,178.5 466.3,175.3 464.6,178.8ZM467.1,178.5 467.3,174.7 466.4,171.7 466.3,175.3ZM466.4,171.7 464.9,168.1 463.6,165.5 464.9,168.8ZM422.8,167.7 421.1,171.2 422.6,168.4 424.1,165.1ZM421.1,171.2 421.0,174.9 422.5,171.8 422.6,168.4ZM421.0,174.9 422.5,178.4 423.8,175.1 422.5,171.8ZM422.5,178.4 425.3,181.6 426.5,178.1 423.8,175.1ZM425.3,181.6 429.5,184.3 430.4,180.6 426.5,178.1ZM429.5,184.3 434.6,186.1 435.1,182.4 430.4,180.6ZM434.6,186.1 440.3,187.1 440.5,183.3 435.1,182.4ZM440.3,187.1 446.2,187.2 446.1,183.4 440.5,183.3ZM446.2,187.2 452.0,186.3 451.5,182.5 446.1,183.4ZM452.0,186.3 457.2,184.5 456.4,180.9 451.5,182.5ZM457.2,184.5 461.5,182.0 460.4,178.5 456.4,180.9ZM461.5,182.0 464.6,178.8 463.3,175.5 460.4,178.5ZM464.6,178.8 466.3,175.3 464.8,172.2 463.3,175.5ZM466.3,175.3 466.4,171.7 464.9,168.8 464.8,172.2ZM464.9,168.8 463.6,165.5 461.8,163.2 463.0,166.2ZM424.1,165.1 422.6,168.4 424.5,165.8 425.9,162.8ZM422.6,168.4 422.5,171.8 424.4,168.9 424.5,165.8ZM422.5,171.8 423.8,175.1 425.6,172.0 424.4,168.9ZM423.8,175.1 426.5,178.1 428.1,174.7 425.6,172.0ZM426.5,178.1 430.4,180.6 431.6,176.9 428.1,174.7ZM430.4,180.6 435.1,182.4 435.9,178.5 431.6,176.9ZM435.1,182.4 440.5,183.3 440.8,179.4 435.9,178.5ZM440.5,183.3 446.1,183.4 445.9,179.4 440.8,179.4ZM446.1,183.4 451.5,182.5 450.8,178.7 445.9,179.4ZM451.5,182.5 456.4,180.9 455.2,177.1 450.8,178.7ZM456.4,180.9 460.4,178.5 458.9,175.0 455.2,177.1ZM460.4,178.5 463.3,175.5 461.5,172.3 458.9,175.0ZM463.3,175.5 464.8,172.2 462.9,169.3 461.5,172.3ZM464.8,172.2 464.9,168.8 463.0,166.2 462.9,169.3ZM463.0,166.2 461.8,163.2 459.5,161.3 460.6,163.9ZM461.8,163.2 459.3,160.5 457.3,158.9 459.5,161.3ZM428.5,160.2 425.9,162.8 428.2,161.0 430.4,158.7ZM425.9,162.8 424.5,165.8 426.9,163.6 428.2,161.0ZM424.5,165.8 424.4,168.9 426.8,166.3 426.9,163.6ZM424.4,168.9 425.6,172.0 427.9,169.0 426.8,166.3ZM425.6,172.0 428.1,174.7 430.0,171.3 427.9,169.0ZM428.1,174.7 431.6,176.9 433.1,173.3 430.0,171.3ZM431.6,176.9 435.9,178.5 436.9,174.7 433.1,173.3ZM435.9,178.5 440.8,179.4 441.2,175.4 436.9,174.7ZM440.8,179.4 445.9,179.4 445.6,175.5 441.2,175.4ZM445.9,179.4 450.8,178.7 449.9,174.8 445.6,175.5ZM450.8,178.7 455.2,177.1 453.8,173.5 449.9,174.8ZM455.2,177.1 458.9,175.0 457.0,171.6 453.8,173.5ZM458.9,175.0 461.5,172.3 459.2,169.3 457.0,171.6ZM461.5,172.3 462.9,169.3 460.5,166.7 459.2,169.3ZM462.9,169.3 463.0,166.2 460.6,163.9 460.5,166.7ZM460.6,163.9 459.5,161.3 456.8,159.9 457.7,162.1ZM459.5,161.3 457.3,158.9 455.0,157.9 456.8,159.9ZM457.3,158.9 454.3,157.0 452.5,156.3 455.0,157.9ZM433.6,156.8 430.4,158.7 432.7,157.7 435.3,156.1ZM430.4,158.7 428.2,161.0 430.8,159.6 432.7,157.7ZM428.2,161.0 426.9,163.6 429.8,161.8 430.8,159.6ZM426.9,163.6 426.8,166.3 429.7,164.0 429.8,161.8ZM426.8,166.3 427.9,169.0 430.6,166.2 429.7,164.0ZM427.9,169.0 430.0,171.3 432.3,168.2 430.6,166.2ZM430.0,171.3 433.1,173.3 434.9,169.8 432.3,168.2ZM433.1,173.3 436.9,174.7 438.1,171.0 434.9,169.8ZM436.9,174.7 441.2,175.4 441.6,171.6 438.1,171.0ZM441.2,175.4 445.6,175.5 445.3,171.7 441.6,171.6ZM445.6,175.5 449.9,174.8 448.8,171.1 445.3,171.7ZM449.9,174.8 453.8,173.5 452.1,170.0 448.8,171.1ZM453.8,173.5 457.0,171.6 454.7,168.4 452.1,170.0ZM457.0,171.6 459.2,169.3 456.6,166.5 454.7,168.4ZM459.2,169.3 460.5,166.7 457.6,164.3 456.6,166.5ZM460.5,166.7 460.6,163.9 457.7,162.1 457.6,164.3ZM457.7,162.1 456.8,159.9 453.8,158.9 454.5,160.6ZM456.8,159.9 455.0,157.9 452.5,157.4 453.8,158.9ZM455.0,157.9 452.5,156.3 450.5,156.1 452.5,157.4ZM452.5,156.3 449.3,155.1 448.1,155.2 450.5,156.1ZM449.3,155.1 445.8,154.5 445.3,154.8 448.1,155.2ZM445.8,154.5 442.1,154.5 442.5,154.7 445.3,154.8ZM442.1,154.5 438.6,155.0 439.7,155.2 442.5,154.7ZM438.6,155.0 435.3,156.1 437.2,156.0 439.7,155.2ZM435.3,156.1 432.7,157.7 435.2,157.2 437.2,156.0ZM432.7,157.7 430.8,159.6 433.7,158.7 435.2,157.2ZM430.8,159.6 429.8,161.8 432.9,160.4 433.7,158.7ZM429.8,161.8 429.7,164.0 432.9,162.1 432.9,160.4ZM429.7,164.0 430.6,166.2 433.6,163.8 432.9,162.1ZM430.6,166.2 432.3,168.2 434.9,165.4 433.6,163.8ZM432.3,168.2 434.9,169.8 436.9,166.6 434.9,165.4ZM434.9,169.8 438.1,171.0 439.3,167.5 436.9,166.6ZM438.1,171.0 441.6,171.6 442.1,168.0 439.3,167.5ZM441.6,171.6 445.3,171.7 444.9,168.0 442.1,168.0ZM445.3,171.7 448.8,171.1 447.7,167.6 444.9,168.0ZM448.8,171.1 452.1,170.0 450.2,166.7 447.7,167.6ZM452.1,170.0 454.7,168.4 452.2,165.5 450.2,166.7ZM454.7,168.4 456.6,166.5 453.7,164.0 452.2,165.5ZM456.6,166.5 457.6,164.3 454.5,162.4 453.7,164.0ZM457.6,164.3 457.7,162.1 454.5,160.6 454.5,162.4ZM454.5,160.6 453.8,158.9 450.6,158.5 451.1,159.6ZM453.8,158.9 452.5,157.4 449.7,157.4 450.6,158.5ZM452.5,157.4 450.5,156.1 448.3,156.6 449.7,157.4ZM450.5,156.1 448.1,155.2 446.7,156.0 448.3,156.6ZM448.1,155.2 445.3,154.8 444.8,155.6 446.7,156.0ZM445.3,154.8 442.5,154.7 442.9,155.6 444.8,155.6ZM442.5,154.7 439.7,155.2 441.0,155.9 442.9,155.6ZM439.7,155.2 437.2,156.0 439.3,156.5 441.0,155.9ZM437.2,156.0 435.2,157.2 437.9,157.3 439.3,156.5ZM435.2,157.2 433.7,158.7 436.9,158.3 437.9,157.3ZM433.7,158.7 432.9,160.4 436.4,159.5 436.9,158.3ZM432.9,160.4 432.9,162.1 436.3,160.7 436.4,159.5ZM432.9,162.1 433.6,163.8 436.8,161.8 436.3,160.7ZM433.6,163.8 434.9,165.4 437.7,162.9 436.8,161.8ZM434.9,165.4 436.9,166.6 439.1,163.7 437.7,162.9ZM436.9,166.6 439.3,167.5 440.7,164.3 439.1,163.7ZM439.3,167.5 442.1,168.0 442.6,164.7 440.7,164.3ZM442.1,168.0 444.9,168.0 444.5,164.7 442.6,164.7ZM444.9,168.0 447.7,167.6 446.4,164.4 444.5,164.7ZM447.7,167.6 450.2,166.7 448.1,163.8 446.4,164.4ZM450.2,166.7 452.2,165.5 449.5,163.0 448.1,163.8ZM452.2,165.5 453.7,164.0 450.5,162.0 449.5,163.0ZM453.7,164.0 454.5,162.4 451.0,160.8 450.5,162.0ZM454.5,162.4 454.5,160.6 451.1,159.6 451.0,160.8ZM451.1,159.6 450.6,158.5 447.2,158.6 447.4,159.1ZM450.6,158.5 449.7,157.4 446.7,158.0 447.2,158.6ZM449.7,157.4 448.3,156.6 446.0,157.6 446.7,158.0ZM448.3,156.6 446.7,156.0 445.2,157.3 446.0,157.6ZM446.7,156.0 444.8,155.6 444.3,157.1 445.2,157.3ZM444.8,155.6 442.9,155.6 443.3,157.1 444.3,157.1ZM442.9,155.6 441.0,155.9 442.3,157.3 443.3,157.1ZM441.0,155.9 439.3,156.5 441.5,157.6 442.3,157.3ZM439.3,156.5 437.9,157.3 440.8,158.0 441.5,157.6ZM437.9,157.3 436.9,158.3 440.3,158.5 440.8,158.0ZM436.9,158.3 436.4,159.5 440.0,159.1 440.3,158.5ZM436.4,159.5 436.3,160.7 440.0,159.7 440.0,159.1ZM436.3,160.7 436.8,161.8 440.2,160.2 440.0,159.7ZM436.8,161.8 437.7,162.9 440.7,160.8 440.2,160.2ZM437.7,162.9 439.1,163.7 441.4,161.2 440.7,160.8ZM439.1,163.7 440.7,164.3 442.2,161.5 441.4,161.2ZM440.7,164.3 442.6,164.7 443.1,161.7 442.2,161.5ZM442.6,164.7 444.5,164.7 444.1,161.7 443.1,161.7ZM444.5,164.7 446.4,164.4 445.1,161.5 444.1,161.7ZM446.4,164.4 448.1,163.8 445.9,161.3 445.1,161.5ZM448.1,163.8 449.5,163.0 446.6,160.8 445.9,161.3ZM449.5,163.0 450.5,162.0 447.1,160.3 446.6,160.8ZM450.5,162.0 451.0,160.8 447.4,159.7 447.1,160.3ZM451.0,160.8 451.1,159.6 447.4,159.1 447.4,159.7ZM447.4,159.1 447.2,158.6 443.7,159.2 443.7,159.2ZM447.2,158.6 446.7,158.0 443.7,159.2 443.7,159.2ZM446.7,158.0 446.0,157.6 443.7,159.2 443.7,159.2ZM446.0,157.6 445.2,157.3 443.7,159.2 443.7,159.2ZM445.2,157.3 444.3,157.1 443.7,159.2 443.7,159.2ZM444.3,157.1 443.3,157.1 443.7,159.2 443.7,159.2ZM443.3,157.1 442.3,157.3 443.7,159.2 443.7,159.2ZM442.3,157.3 441.5,157.6 443.7,159.2 443.7,159.2ZM441.5,157.6 440.8,158.0 443.7,159.2 443.7,159.2ZM440.8,158.0 440.3,158.5 443.7,159.2 443.7,159.2ZM440.3,158.5 440.0,159.1 443.7,159.2 443.7,159.2ZM440.0,159.1 440.0,159.7 443.7,159.2 443.7,159.2ZM440.0,159.7 440.2,160.2 443.7,159.2 443.7,159.2ZM440.2,160.2 440.7,160.8 443.7,159.2 443.7,159.2ZM440.7,160.8 441.4,161.2 443.7,159.2 443.7,159.2ZM441.4,161.2 442.2,161.5 443.7,159.2 443.7,159.2ZM442.2,161.5 443.1,161.7 443.7,159.2 443.7,159.2ZM443.1,161.7 444.1,161.7 443.7,159.2 443.7,159.2ZM444.1,161.7 445.1,161.5 443.7,159.2 443.7,159.2ZM445.1,161.5 445.9,161.3 443.7,159.2 443.7,159.2ZM445.9,161.3 446.6,160.8 443.7,159.2 443.7,159.2ZM446.6,160.8 447.1,160.3 443.7,159.2 443.7,159.2ZM447.1,160.3 447.4,159.7 443.7,159.2 443.7,159.2ZM447.4,159.7 447.4,159.1 443.7,159.2 443.7,159.2Z"/>
<path class="tg" d="M122.3,320.0 C131.0,314.9 144.4,307.0 148.5,304.6 C152.6,302.2 156.7,299.8 160.8,297.4 C164.9,295.0 173.7,290.2 176.2,288.8 C178.7,287.4 181.7,285.9 183.8,284.6 C185.9,283.3 187.9,281.7 190.0,280.3 C192.1,278.9 196.6,275.7 200.0,273.6 C203.4,271.5 213.4,266.2 220.0,262.3 C226.6,258.4 233.4,253.9 240.0,250.0 C246.6,246.1 253.4,242.4 260.0,238.5 C266.6,234.6 283.3,224.7 290.0,220.8 C296.7,216.9 303.3,213.0 310.0,209.2 C316.7,205.4 323.4,201.6 330.0,197.7 C336.6,193.8 347.9,186.7 351.5,184.6 C355.1,182.5 360.7,179.7 362.3,178.4 C363.9,177.1 365.4,175.6 366.6,174.0 C367.8,172.4 376.4,157.5 380.8,149.0 C385.2,140.5 396.5,115.8 398.2,112.0 C399.9,108.2 401.5,104.3 403.3,100.5 C405.1,96.7 412.0,83.2 416.4,74.5"/>
<path class="tb" d="M122.3,322.8 C124.2,322.7 126.8,322.7 128.0,322.6 C129.2,322.5 130.4,322.3 131.5,322.0 C132.6,321.7 134.7,320.8 136.2,320.0 C137.7,319.2 144.4,314.3 148.5,311.5 C152.6,308.7 156.7,305.9 160.8,303.1 C164.9,300.3 171.7,295.8 176.2,293.1 C180.7,290.4 186.7,287.4 190.0,285.6 C193.3,283.8 196.7,281.9 200.0,280.0 C203.3,278.1 213.3,271.8 220.0,267.7 C226.7,263.6 233.3,259.5 240.0,255.4 C246.7,251.3 253.3,247.1 260.0,243.1 C266.7,239.1 283.2,230.2 290.0,226.2 C296.8,222.2 303.3,217.9 310.0,213.8 C316.7,209.7 323.4,205.7 330.0,201.5 C336.6,197.3 348.2,189.8 351.5,187.8 C354.8,185.8 360.1,182.8 361.5,181.8 C362.9,180.8 364.3,179.8 365.4,178.5 C366.5,177.2 367.7,175.2 368.8,173.5 C369.9,171.8 377.8,158.0 381.8,150.0 C385.8,142.0 397.6,115.8 399.2,112.0 C400.8,108.2 402.0,104.3 403.7,100.5 C405.4,96.7 412.3,83.2 416.6,74.5"/>
<path class="tg" d="M388.6,134.5 C392.1,127.0 397.4,115.8 399.0,112.0 C400.6,108.2 401.8,104.2 403.5,100.4 C405.2,96.6 412.0,83.1 416.3,74.4" stroke-dasharray="2.2 4.8" stroke-width="1.4" stroke-linecap="butt"/>
<path class="tg" d="M127.4,298.5 C134.4,298.2 144.4,298.0 148.5,297.7 C152.6,297.4 156.7,296.9 160.8,296.4 C164.9,295.9 170.3,295.2 175.0,294.6 C179.7,294.0 188.5,292.6 190.0,292.4 C191.5,292.2 193.0,292.0 194.5,291.8 C196.0,291.6 204.3,289.8 209.1,289.2 C213.9,288.6 218.8,288.6 223.6,288.4 C228.4,288.2 248.8,287.5 260.0,287.0 C271.2,286.5 291.1,285.2 293.6,285.2 C296.1,285.2 299.3,285.6 301.0,285.8 C302.7,286.0 304.3,286.6 306.0,286.6 C307.7,286.6 313.3,285.3 316.9,284.6 C320.5,283.9 326.6,282.5 330.0,281.6 C333.4,280.7 336.7,279.7 340.0,278.8 C343.3,277.9 353.3,275.2 360.0,273.5 C366.7,271.8 373.3,270.2 380.0,268.5 C386.7,266.8 396.7,264.1 400.0,263.2 C403.3,262.3 406.7,261.3 410.0,260.5 C413.3,259.7 423.3,257.6 425.4,256.9 C427.5,256.2 430.2,255.3 431.5,254.4 C432.8,253.5 433.9,252.2 434.6,250.8 C435.3,249.4 435.5,246.7 435.7,244.6 C435.9,242.5 435.8,237.5 435.8,234.0 C435.8,230.5 435.7,206.7 435.6,200.0 C435.5,193.3 435.3,186.7 435.3,180.0 C435.3,173.3 435.1,165.7 435.4,160.0 C435.7,154.3 436.4,148.7 436.9,143.0 C437.4,137.3 438.4,127.7 439.2,120.0 C440.0,112.3 442.4,90.4 442.8,89.2 C443.2,88.0 443.9,87.1 444.5,86.0"/>
<path class="tb" d="M126.5,299.8 C127.3,300.1 128.1,300.5 129.0,300.7 C129.9,300.9 131.7,301.0 133.0,301.0 C134.3,301.0 144.4,300.5 148.5,300.0 C152.6,299.5 156.7,298.4 160.8,297.7 C164.9,297.0 172.8,295.8 174.6,295.4 C176.4,295.0 178.2,294.6 180.0,294.2 C181.8,293.8 189.7,292.1 194.5,291.1 C199.3,290.1 204.3,288.8 209.1,288.2 C213.9,287.6 218.8,287.4 223.6,287.2 C228.4,287.0 242.7,286.9 250.0,286.7 C257.3,286.5 264.5,286.1 271.8,285.8 C279.1,285.5 291.1,284.5 293.6,284.6 C296.1,284.7 299.3,285.2 301.0,285.6 C302.7,286.0 304.3,287.0 306.0,287.5 C307.7,288.0 309.3,288.8 311.1,288.9 C312.9,289.0 316.9,288.5 319.8,288.0 C322.7,287.5 326.1,286.3 329.2,285.5 C332.3,284.7 336.4,283.8 340.0,282.8 C343.6,281.8 353.4,278.7 360.0,276.9 C366.6,275.1 373.3,273.6 380.0,272.0 C386.7,270.4 396.7,268.3 400.0,267.5 C403.3,266.7 406.7,266.0 410.0,265.2 C413.3,264.4 423.3,262.1 425.4,261.5 C427.5,260.9 430.1,260.1 431.5,259.2 C432.9,258.3 434.1,257.1 434.9,255.7 C435.7,254.3 436.0,252.5 436.2,250.8 C436.4,249.1 436.3,245.0 436.2,243.0 C436.1,241.0 435.7,239.0 435.4,237.0 C435.1,235.0 434.8,232.9 434.6,230.8 C434.4,228.7 433.6,219.5 433.1,213.8 C432.6,208.1 431.9,200.5 431.5,195.4 C431.1,190.3 430.7,184.0 430.4,180.0 C430.1,176.0 429.5,170.7 429.4,168.0 C429.3,165.3 429.0,162.7 429.2,160.0 C429.4,157.3 431.1,146.6 432.3,140.0 C433.5,133.4 434.8,126.7 436.2,120.0 C437.6,113.3 441.9,92.7 442.4,91.0 C442.9,89.3 443.7,87.7 444.3,86.0"/>
<path class="tg" d="M223.6,287.4 C232.4,287.2 242.7,287.1 250.0,286.9 C257.3,286.7 264.5,286.3 271.8,286.0 C279.1,285.7 286.3,285.2 293.6,284.8" stroke-dasharray="3 10" stroke-width="1.2" stroke-linecap="butt"/>
<path class="tg" d="M131.0,285.0 C130.7,280.0 130.3,275.0 130.0,270.0 C129.7,265.0 128.7,253.3 128.2,245.0 C127.7,236.7 127.2,224.9 126.7,220.0 C126.2,215.1 125.1,209.4 124.5,205.5 C123.9,201.6 123.1,196.1 122.9,193.8 C122.7,191.5 122.6,188.6 122.7,187.0 C122.8,185.4 122.9,183.7 123.6,182.2 C124.3,180.7 125.4,179.4 126.6,178.2 C127.8,177.0 142.3,167.3 150.0,161.6 C157.7,155.9 209.6,116.0 215.0,111.8 C220.4,107.6 228.9,100.5 231.2,98.9 C233.5,97.3 236.6,95.1 238.2,94.3 C239.8,93.5 241.5,93.1 243.2,92.7 C244.9,92.3 247.7,92.2 250.0,92.0 C252.3,91.8 266.7,90.3 275.0,89.3 C283.3,88.3 291.7,87.3 300.0,86.0 C308.3,84.7 322.7,82.0 330.0,80.8 C337.3,79.6 344.5,78.7 351.8,77.6 C359.1,76.5 367.3,75.3 373.6,74.4 C379.9,73.5 390.1,72.2 392.5,71.8 C394.9,71.4 398.5,70.9 399.8,70.4 C401.1,69.9 402.5,68.8 403.2,68.2 C403.9,67.6 404.4,66.7 405.0,66.0"/>
<path class="tb" d="M133.2,285.0 C133.0,280.0 133.0,275.0 132.6,270.0 C132.2,265.0 130.5,253.3 129.6,245.0 C128.7,236.7 127.8,224.9 127.2,220.0 C126.6,215.1 125.5,209.4 124.9,205.5 C124.3,201.6 123.5,196.1 123.3,193.8 C123.1,191.5 122.9,188.5 123.0,187.0 C123.1,185.5 123.3,183.9 124.0,182.6 C124.7,181.3 125.9,180.0 127.1,178.9 C128.3,177.8 142.9,168.1 150.6,162.4 C158.3,156.7 210.2,117.0 215.6,112.7 C221.0,108.4 229.5,101.2 231.7,99.5 C233.9,97.8 237.0,95.5 238.5,94.7 C240.0,93.9 241.7,93.5 243.4,93.2 C245.1,92.9 247.8,92.9 250.0,92.7 C252.2,92.5 266.7,91.3 275.0,90.4 C283.3,89.5 291.7,88.6 300.0,87.5 C308.3,86.4 322.7,84.3 330.0,83.2 C337.3,82.1 344.5,80.9 351.8,79.8 C359.1,78.7 367.3,77.4 373.6,76.6 C379.9,75.8 390.1,74.8 392.5,74.4 C394.9,74.0 398.4,73.6 399.8,73.0 C401.2,72.4 402.7,71.2 403.5,70.4 C404.3,69.6 404.6,68.5 405.2,67.5"/>
<clipPath id="c4"><rect x="424" y="152" width="9.6" height="15"/></clipPath>
<g clip-path="url(#c4)"><path class="ob" style="fill:none;stroke-width:1.3" d="M420.0,177.4 419.9,181.3 420.1,178.1 420.3,174.3ZM419.9,181.3 421.4,185.0 421.6,181.8 420.1,178.1ZM421.4,185.0 424.4,188.4 424.6,185.1 421.6,181.8ZM424.4,188.4 428.7,191.1 428.9,187.8 424.6,185.1ZM428.7,191.1 434.1,193.1 434.2,189.8 428.9,187.8ZM434.1,193.1 440.1,194.2 440.2,190.8 434.2,189.8ZM440.1,194.2 446.4,194.2 446.3,190.9 440.2,190.8ZM446.4,194.2 452.5,193.3 452.3,189.9 446.3,190.9ZM452.5,193.3 457.9,191.4 457.8,188.1 452.3,189.9ZM457.9,191.4 462.5,188.8 462.2,185.4 457.8,188.1ZM462.5,188.8 465.7,185.5 465.4,182.2 462.2,185.4ZM465.7,185.5 467.4,181.8 467.1,178.5 465.4,182.2ZM467.4,181.8 467.6,177.9 467.3,174.7 467.1,178.5ZM420.3,174.3 420.1,178.1 421.0,174.9 421.1,171.2ZM420.1,178.1 421.6,181.8 422.5,178.4 421.0,174.9ZM421.6,181.8 424.6,185.1 425.3,181.6 422.5,178.4ZM424.6,185.1 428.9,187.8 429.5,184.3 425.3,181.6ZM428.9,187.8 434.2,189.8 434.6,186.1 429.5,184.3ZM434.2,189.8 440.2,190.8 440.3,187.1 434.6,186.1ZM440.2,190.8 446.3,190.9 446.2,187.2 440.3,187.1ZM446.3,190.9 452.3,189.9 452.0,186.3 446.2,187.2ZM452.3,189.9 457.8,188.1 457.2,184.5 452.0,186.3ZM457.8,188.1 462.2,185.4 461.5,182.0 457.2,184.5ZM462.2,185.4 465.4,182.2 464.6,178.8 461.5,182.0ZM465.4,182.2 467.1,178.5 466.3,175.3 464.6,178.8ZM467.1,178.5 467.3,174.7 466.4,171.7 466.3,175.3ZM466.4,171.7 464.9,168.1 463.6,165.5 464.9,168.8ZM422.8,167.7 421.1,171.2 422.6,168.4 424.1,165.1ZM421.1,171.2 421.0,174.9 422.5,171.8 422.6,168.4ZM421.0,174.9 422.5,178.4 423.8,175.1 422.5,171.8ZM422.5,178.4 425.3,181.6 426.5,178.1 423.8,175.1ZM425.3,181.6 429.5,184.3 430.4,180.6 426.5,178.1ZM429.5,184.3 434.6,186.1 435.1,182.4 430.4,180.6ZM434.6,186.1 440.3,187.1 440.5,183.3 435.1,182.4ZM440.3,187.1 446.2,187.2 446.1,183.4 440.5,183.3ZM446.2,187.2 452.0,186.3 451.5,182.5 446.1,183.4ZM452.0,186.3 457.2,184.5 456.4,180.9 451.5,182.5ZM457.2,184.5 461.5,182.0 460.4,178.5 456.4,180.9ZM461.5,182.0 464.6,178.8 463.3,175.5 460.4,178.5ZM464.6,178.8 466.3,175.3 464.8,172.2 463.3,175.5ZM466.3,175.3 466.4,171.7 464.9,168.8 464.8,172.2ZM464.9,168.8 463.6,165.5 461.8,163.2 463.0,166.2ZM424.1,165.1 422.6,168.4 424.5,165.8 425.9,162.8ZM422.6,168.4 422.5,171.8 424.4,168.9 424.5,165.8ZM422.5,171.8 423.8,175.1 425.6,172.0 424.4,168.9ZM423.8,175.1 426.5,178.1 428.1,174.7 425.6,172.0ZM426.5,178.1 430.4,180.6 431.6,176.9 428.1,174.7ZM430.4,180.6 435.1,182.4 435.9,178.5 431.6,176.9ZM435.1,182.4 440.5,183.3 440.8,179.4 435.9,178.5ZM440.5,183.3 446.1,183.4 445.9,179.4 440.8,179.4ZM446.1,183.4 451.5,182.5 450.8,178.7 445.9,179.4ZM451.5,182.5 456.4,180.9 455.2,177.1 450.8,178.7ZM456.4,180.9 460.4,178.5 458.9,175.0 455.2,177.1ZM460.4,178.5 463.3,175.5 461.5,172.3 458.9,175.0ZM463.3,175.5 464.8,172.2 462.9,169.3 461.5,172.3ZM464.8,172.2 464.9,168.8 463.0,166.2 462.9,169.3ZM463.0,166.2 461.8,163.2 459.5,161.3 460.6,163.9ZM461.8,163.2 459.3,160.5 457.3,158.9 459.5,161.3ZM428.5,160.2 425.9,162.8 428.2,161.0 430.4,158.7ZM425.9,162.8 424.5,165.8 426.9,163.6 428.2,161.0ZM424.5,165.8 424.4,168.9 426.8,166.3 426.9,163.6ZM424.4,168.9 425.6,172.0 427.9,169.0 426.8,166.3ZM425.6,172.0 428.1,174.7 430.0,171.3 427.9,169.0ZM428.1,174.7 431.6,176.9 433.1,173.3 430.0,171.3ZM431.6,176.9 435.9,178.5 436.9,174.7 433.1,173.3ZM435.9,178.5 440.8,179.4 441.2,175.4 436.9,174.7ZM440.8,179.4 445.9,179.4 445.6,175.5 441.2,175.4ZM445.9,179.4 450.8,178.7 449.9,174.8 445.6,175.5ZM450.8,178.7 455.2,177.1 453.8,173.5 449.9,174.8ZM455.2,177.1 458.9,175.0 457.0,171.6 453.8,173.5ZM458.9,175.0 461.5,172.3 459.2,169.3 457.0,171.6ZM461.5,172.3 462.9,169.3 460.5,166.7 459.2,169.3ZM462.9,169.3 463.0,166.2 460.6,163.9 460.5,166.7ZM460.6,163.9 459.5,161.3 456.8,159.9 457.7,162.1ZM459.5,161.3 457.3,158.9 455.0,157.9 456.8,159.9ZM457.3,158.9 454.3,157.0 452.5,156.3 455.0,157.9ZM433.6,156.8 430.4,158.7 432.7,157.7 435.3,156.1ZM430.4,158.7 428.2,161.0 430.8,159.6 432.7,157.7ZM428.2,161.0 426.9,163.6 429.8,161.8 430.8,159.6ZM426.9,163.6 426.8,166.3 429.7,164.0 429.8,161.8ZM426.8,166.3 427.9,169.0 430.6,166.2 429.7,164.0ZM427.9,169.0 430.0,171.3 432.3,168.2 430.6,166.2ZM430.0,171.3 433.1,173.3 434.9,169.8 432.3,168.2ZM433.1,173.3 436.9,174.7 438.1,171.0 434.9,169.8ZM436.9,174.7 441.2,175.4 441.6,171.6 438.1,171.0ZM441.2,175.4 445.6,175.5 445.3,171.7 441.6,171.6ZM445.6,175.5 449.9,174.8 448.8,171.1 445.3,171.7ZM449.9,174.8 453.8,173.5 452.1,170.0 448.8,171.1ZM453.8,173.5 457.0,171.6 454.7,168.4 452.1,170.0ZM457.0,171.6 459.2,169.3 456.6,166.5 454.7,168.4ZM459.2,169.3 460.5,166.7 457.6,164.3 456.6,166.5ZM460.5,166.7 460.6,163.9 457.7,162.1 457.6,164.3ZM457.7,162.1 456.8,159.9 453.8,158.9 454.5,160.6ZM456.8,159.9 455.0,157.9 452.5,157.4 453.8,158.9ZM455.0,157.9 452.5,156.3 450.5,156.1 452.5,157.4ZM452.5,156.3 449.3,155.1 448.1,155.2 450.5,156.1ZM449.3,155.1 445.8,154.5 445.3,154.8 448.1,155.2ZM445.8,154.5 442.1,154.5 442.5,154.7 445.3,154.8ZM442.1,154.5 438.6,155.0 439.7,155.2 442.5,154.7ZM438.6,155.0 435.3,156.1 437.2,156.0 439.7,155.2ZM435.3,156.1 432.7,157.7 435.2,157.2 437.2,156.0ZM432.7,157.7 430.8,159.6 433.7,158.7 435.2,157.2ZM430.8,159.6 429.8,161.8 432.9,160.4 433.7,158.7ZM429.8,161.8 429.7,164.0 432.9,162.1 432.9,160.4ZM429.7,164.0 430.6,166.2 433.6,163.8 432.9,162.1ZM430.6,166.2 432.3,168.2 434.9,165.4 433.6,163.8ZM432.3,168.2 434.9,169.8 436.9,166.6 434.9,165.4ZM434.9,169.8 438.1,171.0 439.3,167.5 436.9,166.6ZM438.1,171.0 441.6,171.6 442.1,168.0 439.3,167.5ZM441.6,171.6 445.3,171.7 444.9,168.0 442.1,168.0ZM445.3,171.7 448.8,171.1 447.7,167.6 444.9,168.0ZM448.8,171.1 452.1,170.0 450.2,166.7 447.7,167.6ZM452.1,170.0 454.7,168.4 452.2,165.5 450.2,166.7ZM454.7,168.4 456.6,166.5 453.7,164.0 452.2,165.5ZM456.6,166.5 457.6,164.3 454.5,162.4 453.7,164.0ZM457.6,164.3 457.7,162.1 454.5,160.6 454.5,162.4ZM454.5,160.6 453.8,158.9 450.6,158.5 451.1,159.6ZM453.8,158.9 452.5,157.4 449.7,157.4 450.6,158.5ZM452.5,157.4 450.5,156.1 448.3,156.6 449.7,157.4ZM450.5,156.1 448.1,155.2 446.7,156.0 448.3,156.6ZM448.1,155.2 445.3,154.8 444.8,155.6 446.7,156.0ZM445.3,154.8 442.5,154.7 442.9,155.6 444.8,155.6ZM442.5,154.7 439.7,155.2 441.0,155.9 442.9,155.6ZM439.7,155.2 437.2,156.0 439.3,156.5 441.0,155.9ZM437.2,156.0 435.2,157.2 437.9,157.3 439.3,156.5ZM435.2,157.2 433.7,158.7 436.9,158.3 437.9,157.3ZM433.7,158.7 432.9,160.4 436.4,159.5 436.9,158.3ZM432.9,160.4 432.9,162.1 436.3,160.7 436.4,159.5ZM432.9,162.1 433.6,163.8 436.8,161.8 436.3,160.7ZM433.6,163.8 434.9,165.4 437.7,162.9 436.8,161.8ZM434.9,165.4 436.9,166.6 439.1,163.7 437.7,162.9ZM436.9,166.6 439.3,167.5 440.7,164.3 439.1,163.7ZM439.3,167.5 442.1,168.0 442.6,164.7 440.7,164.3ZM442.1,168.0 444.9,168.0 444.5,164.7 442.6,164.7ZM444.9,168.0 447.7,167.6 446.4,164.4 444.5,164.7ZM447.7,167.6 450.2,166.7 448.1,163.8 446.4,164.4ZM450.2,166.7 452.2,165.5 449.5,163.0 448.1,163.8ZM452.2,165.5 453.7,164.0 450.5,162.0 449.5,163.0ZM453.7,164.0 454.5,162.4 451.0,160.8 450.5,162.0ZM454.5,162.4 454.5,160.6 451.1,159.6 451.0,160.8ZM451.1,159.6 450.6,158.5 447.2,158.6 447.4,159.1ZM450.6,158.5 449.7,157.4 446.7,158.0 447.2,158.6ZM449.7,157.4 448.3,156.6 446.0,157.6 446.7,158.0ZM448.3,156.6 446.7,156.0 445.2,157.3 446.0,157.6ZM446.7,156.0 444.8,155.6 444.3,157.1 445.2,157.3ZM444.8,155.6 442.9,155.6 443.3,157.1 444.3,157.1ZM442.9,155.6 441.0,155.9 442.3,157.3 443.3,157.1ZM441.0,155.9 439.3,156.5 441.5,157.6 442.3,157.3ZM439.3,156.5 437.9,157.3 440.8,158.0 441.5,157.6ZM437.9,157.3 436.9,158.3 440.3,158.5 440.8,158.0ZM436.9,158.3 436.4,159.5 440.0,159.1 440.3,158.5ZM436.4,159.5 436.3,160.7 440.0,159.7 440.0,159.1ZM436.3,160.7 436.8,161.8 440.2,160.2 440.0,159.7ZM436.8,161.8 437.7,162.9 440.7,160.8 440.2,160.2ZM437.7,162.9 439.1,163.7 441.4,161.2 440.7,160.8ZM439.1,163.7 440.7,164.3 442.2,161.5 441.4,161.2ZM440.7,164.3 442.6,164.7 443.1,161.7 442.2,161.5ZM442.6,164.7 444.5,164.7 444.1,161.7 443.1,161.7ZM444.5,164.7 446.4,164.4 445.1,161.5 444.1,161.7ZM446.4,164.4 448.1,163.8 445.9,161.3 445.1,161.5ZM448.1,163.8 449.5,163.0 446.6,160.8 445.9,161.3ZM449.5,163.0 450.5,162.0 447.1,160.3 446.6,160.8ZM450.5,162.0 451.0,160.8 447.4,159.7 447.1,160.3ZM451.0,160.8 451.1,159.6 447.4,159.1 447.4,159.7ZM447.4,159.1 447.2,158.6 443.7,159.2 443.7,159.2ZM447.2,158.6 446.7,158.0 443.7,159.2 443.7,159.2ZM446.7,158.0 446.0,157.6 443.7,159.2 443.7,159.2ZM446.0,157.6 445.2,157.3 443.7,159.2 443.7,159.2ZM445.2,157.3 444.3,157.1 443.7,159.2 443.7,159.2ZM444.3,157.1 443.3,157.1 443.7,159.2 443.7,159.2ZM443.3,157.1 442.3,157.3 443.7,159.2 443.7,159.2ZM442.3,157.3 441.5,157.6 443.7,159.2 443.7,159.2ZM441.5,157.6 440.8,158.0 443.7,159.2 443.7,159.2ZM440.8,158.0 440.3,158.5 443.7,159.2 443.7,159.2ZM440.3,158.5 440.0,159.1 443.7,159.2 443.7,159.2ZM440.0,159.1 440.0,159.7 443.7,159.2 443.7,159.2ZM440.0,159.7 440.2,160.2 443.7,159.2 443.7,159.2ZM440.2,160.2 440.7,160.8 443.7,159.2 443.7,159.2ZM440.7,160.8 441.4,161.2 443.7,159.2 443.7,159.2ZM441.4,161.2 442.2,161.5 443.7,159.2 443.7,159.2ZM442.2,161.5 443.1,161.7 443.7,159.2 443.7,159.2ZM443.1,161.7 444.1,161.7 443.7,159.2 443.7,159.2ZM444.1,161.7 445.1,161.5 443.7,159.2 443.7,159.2ZM445.1,161.5 445.9,161.3 443.7,159.2 443.7,159.2ZM445.9,161.3 446.6,160.8 443.7,159.2 443.7,159.2ZM446.6,160.8 447.1,160.3 443.7,159.2 443.7,159.2ZM447.1,160.3 447.4,159.7 443.7,159.2 443.7,159.2ZM447.4,159.7 447.4,159.1 443.7,159.2 443.7,159.2Z"/></g>
<path class="tg" d="M129.6,245.0 C128.8,236.7 127.8,224.9 127.2,220.0 C126.6,215.1 125.5,209.4 124.9,205.5 C124.3,201.6 123.5,196.1 123.3,193.8 C123.1,191.5 122.9,188.5 123.0,187.0 C123.1,185.5 123.3,183.9 124.0,182.6 C124.7,181.3 126.1,180.1 127.1,178.9" stroke-dasharray="3 13" stroke-width="1.0" stroke-linecap="butt"/>
<path class="tg" d="M244.0,93.1 C246.0,92.9 248.0,92.8 250.0,92.6 C252.0,92.4 273.3,90.4 280.0,89.6 C286.7,88.8 293.3,87.9 300.0,87.0" stroke-dasharray="3 8" stroke-width="1.3" stroke-linecap="butt"/>
<rect x="125.9" y="284.5" width="9.8" height="9.8" fill="#ff0000"/>
<rect x="119.3" y="297.2" width="6.2" height="6.2" fill="#ff0000" stroke="#ff00ff" stroke-width="3.0"/>
<rect x="112.6" y="316.8" width="9.8" height="9.8" fill="#ff0000"/>
<rect x="402.2" y="62.6" width="7.3" height="7.3" fill="#00ee00" stroke="#ff00ff" stroke-width="1.9"/>
<rect x="411.7" y="66.6" width="9.8" height="9.8" fill="#00ff00"/>
<rect x="439.9" y="80.2" width="9.8" height="9.8" fill="#00ff00"/>
<circle cx="130.8" cy="289.4" r="0.8" fill="#2a00c0" opacity="0.75"/>
<circle cx="122.4" cy="300.3" r="0.8" fill="#2a00c0" opacity="0.75"/>
<circle cx="117.5" cy="321.7" r="0.8" fill="#2a00c0" opacity="0.75"/>
<rect x="119.5" y="179.6" width="7.5" height="7.5" fill="none" stroke="#ff00ff" stroke-width="1.5"/>
<rect x="227.8" y="95.3" width="7.5" height="7.5" fill="none" stroke="#ff00ff" stroke-width="1.5"/>
<rect x="297.1" y="281.9" width="7.5" height="7.5" fill="none" stroke="#ff00ff" stroke-width="1.5"/>
<polygon points="132.5,170.0 127.4,179.0 137.6,179.0" fill="#0000ff"/>
<polygon points="243.1,94.2 238.1,102.8 248.1,102.8" fill="#0000ff"/>
<polygon points="381.7,162.6 376.4,171.0 387.0,171.0" fill="#0000ff"/>
<polygon points="333.1,304.8 327.8,313.2 338.4,313.2" fill="#0000ff"/>
<polygon points="435.4,234.6 430.4,243.2 440.4,243.2" fill="#0000ff"/>
<text x="287.5" y="16" class="b" text-anchor="middle">Multi-UAV cooperative flight trajectories</text>
<text x="35.8" y="55" class="b" text-anchor="end">5000</text>
<text x="6.2" y="73.5" class="r" text-anchor="start">h/m</text>
<text x="35.6" y="74.2" class="b" text-anchor="end">0</text>
<text x="72.2" y="370.6" class="b" text-anchor="middle">0</text>
<text x="66.5" y="340.1" class="b" text-anchor="middle">1</text>
<text x="60.9" y="309.5" class="b" text-anchor="middle">2</text>
<text x="55.2" y="279.0" class="b" text-anchor="middle">3</text>
<text x="49.6" y="248.4" class="b" text-anchor="middle">4</text>
<text x="43.9" y="217.9" class="b" text-anchor="middle">5</text>
<text x="38.2" y="187.4" class="b" text-anchor="middle">6</text>
<text x="32.6" y="156.8" class="b" text-anchor="middle">7</text>
<text x="26.9" y="126.3" class="b" text-anchor="middle">8</text>
<text x="21.3" y="95.7" class="b" text-anchor="middle">9</text>
<text x="10.6" y="167.7" class="r" text-anchor="start">x 10</text>
<text x="31.2" y="164.4" class="sup" text-anchor="start">4</text>
<text x="16.8" y="241.6" class="r" text-anchor="start">y/m</text>
<text x="95.8" y="383.0" class="b" text-anchor="middle">0</text>
<text x="145.5" y="379.6" class="b" text-anchor="middle">1</text>
<text x="195.1" y="376.2" class="b" text-anchor="middle">2</text>
<text x="244.8" y="372.7" class="b" text-anchor="middle">3</text>
<text x="294.4" y="369.3" class="b" text-anchor="middle">4</text>
<text x="344.1" y="365.9" class="b" text-anchor="middle">5</text>
<text x="393.8" y="362.5" class="b" text-anchor="middle">6</text>
<text x="443.4" y="359.1" class="b" text-anchor="middle">7</text>
<text x="493.1" y="355.6" class="b" text-anchor="middle">8</text>
<text x="542.7" y="352.2" class="b" text-anchor="middle">9</text>
<text x="320.6" y="382.3" class="r" text-anchor="start">x/m</text>
<text x="483.6" y="383" class="b" text-anchor="start">x 10</text>
<text x="506.2" y="375.2" class="bsup" text-anchor="start">4</text>
<text x="398.3" y="51.2" class="r" text-anchor="start">Exit 1</text>
<text x="419.7" y="67.5" class="r" text-anchor="start">Exit 3</text>
<text x="451.8" y="78.4" class="r" text-anchor="start">Exit 2</text>
<text x="235.8" y="120.8" class="r" text-anchor="start">Target 4</text>
<text x="305.7" y="127.4" class="r" text-anchor="start">Obstacle 2</text>
<text x="92.6" y="158.8" class="r" text-anchor="start">Target 5</text>
<text x="383.3" y="156.7" class="r" text-anchor="start">Target 3</text>
<text x="203.6" y="206" class="r" text-anchor="start">Obstacle 1</text>
<text x="453.6" y="206" class="r" text-anchor="start">Obstacle 4</text>
<text x="384.6" y="231.3" class="r" text-anchor="start">Target 2</text>
<text x="89.3" y="281.2" class="r" text-anchor="start">Entry 1</text>
<text x="81.2" y="313.1" class="r" text-anchor="start">Entry 2</text>
<text x="96.6" y="344" class="r" text-anchor="start">Entry 3</text>
<text x="241.1" y="334.3" class="r" text-anchor="start">Obstacle 3</text>
<text x="347.6" y="319.5" class="r" text-anchor="start">Target 1</text>
</svg>
</body></html>
